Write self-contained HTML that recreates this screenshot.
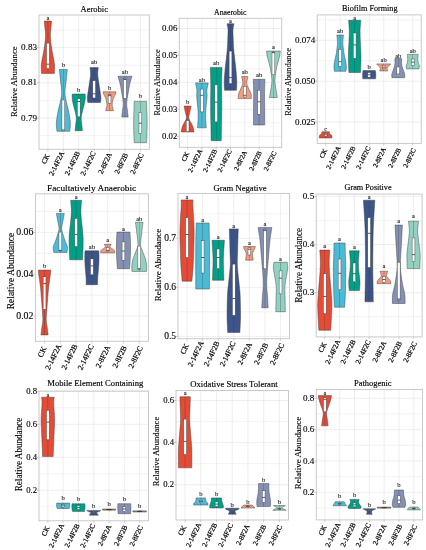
<!DOCTYPE html>
<html><head><meta charset="utf-8"><style>
html,body{margin:0;padding:0;background:#fff;}
svg{display:block;filter:blur(0.5px);}
text{font-family:"Liberation Serif",serif;}
.lt{font-size:6.6px;fill:#222;text-anchor:middle;stroke:#222;stroke-width:0.08px;}
.yt{fill:#000;text-anchor:end;stroke:#000;stroke-width:0.12px;}
.xt{fill:#000;text-anchor:end;stroke:#000;stroke-width:0.2px;}
.ti{fill:#000;text-anchor:middle;stroke:#000;stroke-width:0.15px;}
.yl{fill:#000;text-anchor:middle;stroke:#000;stroke-width:0.12px;}
</style></head><body>
<svg width="426" height="550" viewBox="0 0 426 550">
<rect width="426" height="550" fill="#fff"/>
<line x1="39" y1="29.97" x2="149.3" y2="29.97" stroke="#e9e9e9" stroke-width="0.55"/>
<line x1="39" y1="65.2" x2="149.3" y2="65.2" stroke="#e9e9e9" stroke-width="0.55"/>
<line x1="39" y1="100.5" x2="149.3" y2="100.5" stroke="#e9e9e9" stroke-width="0.55"/>
<line x1="39" y1="135.7" x2="149.3" y2="135.7" stroke="#e9e9e9" stroke-width="0.55"/>
<line x1="39" y1="47.6" x2="149.3" y2="47.6" stroke="#e2e2e2" stroke-width="0.6"/>
<line x1="39" y1="82.85" x2="149.3" y2="82.85" stroke="#e2e2e2" stroke-width="0.6"/>
<line x1="39" y1="118.1" x2="149.3" y2="118.1" stroke="#e2e2e2" stroke-width="0.6"/>
<line x1="47.93" y1="15" x2="47.93" y2="149.3" stroke="#e2e2e2" stroke-width="0.6"/>
<line x1="63.34" y1="15" x2="63.34" y2="149.3" stroke="#e2e2e2" stroke-width="0.6"/>
<line x1="78.74" y1="15" x2="78.74" y2="149.3" stroke="#e2e2e2" stroke-width="0.6"/>
<line x1="94.15" y1="15" x2="94.15" y2="149.3" stroke="#e2e2e2" stroke-width="0.6"/>
<line x1="109.56" y1="15" x2="109.56" y2="149.3" stroke="#e2e2e2" stroke-width="0.6"/>
<line x1="124.96" y1="15" x2="124.96" y2="149.3" stroke="#e2e2e2" stroke-width="0.6"/>
<line x1="140.37" y1="15" x2="140.37" y2="149.3" stroke="#e2e2e2" stroke-width="0.6"/>
<path d="M44.23,21 L51.63,21 C51.52,22.17 51.15,25.67 50.93,28 C50.72,30.33 50.3,32.17 50.33,35 C50.37,37.83 50.72,41.67 51.13,45 C51.55,48.33 52.28,51.83 52.83,55 C53.38,58.17 54.17,60.93 54.43,64 C54.7,67.07 54.43,71.83 54.43,73.4 L41.43,73.4 C41.43,71.83 41.17,67.07 41.43,64 C41.7,60.93 42.48,58.17 43.03,55 C43.58,51.83 44.32,48.33 44.73,45 C45.15,41.67 45.5,37.83 45.53,35 C45.57,32.17 45.15,30.33 44.93,28 C44.72,25.67 44.35,22.17 44.23,21 Z" fill="#E64B35" stroke="#3a3a3a" stroke-width="0.45"/>
<line x1="47.93" y1="21" x2="47.93" y2="73.4" stroke="#3a3a3a" stroke-width="0.4" opacity="0.8"/>
<rect x="46.53" y="43.1" width="2.8" height="25.5" fill="#fff" stroke="#444" stroke-width="0.45"/>
<line x1="46.53" y1="64.2" x2="49.33" y2="64.2" stroke="#333" stroke-width="0.8"/>
<text x="47.93" y="20" class="lt">a</text>
<path d="M59.34,69.5 L67.34,69.5 C67.14,71.42 66.54,77.25 66.14,81 C65.74,84.75 64.97,88.83 64.94,92 C64.91,95.17 65.37,97 65.94,100 C66.51,103 67.67,106.83 68.34,110 C69.01,113.17 69.61,116.42 69.94,119 C70.27,121.58 70.37,123.45 70.34,125.5 C70.31,127.55 69.84,130.33 69.74,131.3 L56.94,131.3 C56.84,130.33 56.37,127.55 56.34,125.5 C56.31,123.45 56.41,121.58 56.74,119 C57.07,116.42 57.67,113.17 58.34,110 C59.01,106.83 60.17,103 60.74,100 C61.31,97 61.77,95.17 61.74,92 C61.71,88.83 60.94,84.75 60.54,81 C60.14,77.25 59.54,71.42 59.34,69.5 Z" fill="#4DBBD5" stroke="#3a3a3a" stroke-width="0.45"/>
<line x1="63.34" y1="69.5" x2="63.34" y2="131.3" stroke="#3a3a3a" stroke-width="0.4" opacity="0.8"/>
<rect x="61.94" y="100" width="2.8" height="31" fill="#fff" stroke="#444" stroke-width="0.45"/>
<line x1="61.94" y1="130" x2="64.74" y2="130" stroke="#333" stroke-width="0.8"/>
<text x="63.34" y="66.5" class="lt">b</text>
<path d="M72.34,94 L85.14,94 C85.18,94.5 85.38,95.83 85.34,97 C85.31,98.17 85.19,99.5 84.94,101 C84.69,102.5 84.29,104.17 83.84,106 C83.39,107.83 82.69,110 82.24,112 C81.79,114 81.23,116 81.14,118 C81.06,120 81.53,121.88 81.74,124 C81.96,126.12 82.33,129.58 82.44,130.7 L75.04,130.7 C75.16,129.58 75.53,126.12 75.74,124 C75.96,121.88 76.43,120 76.34,118 C76.26,116 75.69,114 75.24,112 C74.79,110 74.09,107.83 73.64,106 C73.19,104.17 72.79,102.5 72.54,101 C72.29,99.5 72.18,98.17 72.14,97 C72.11,95.83 72.31,94.5 72.34,94 Z" fill="#00A087" stroke="#3a3a3a" stroke-width="0.45"/>
<line x1="78.74" y1="94" x2="78.74" y2="130.7" stroke="#3a3a3a" stroke-width="0.4" opacity="0.8"/>
<rect x="77.34" y="98.7" width="2.8" height="18.1" fill="#fff" stroke="#444" stroke-width="0.45"/>
<line x1="77.34" y1="101.5" x2="80.14" y2="101.5" stroke="#333" stroke-width="0.8"/>
<text x="78.74" y="91.5" class="lt">b</text>
<path d="M90,67.6 L98.3,67.6 C98.21,68.83 97.56,71.77 97.75,75 C97.94,78.23 98.93,83.33 99.45,87 C99.97,90.67 100.67,94.42 100.85,97 C101.03,99.58 100.6,101.58 100.55,102.5 L87.75,102.5 C87.7,101.58 87.27,99.58 87.45,97 C87.63,94.42 88.33,90.67 88.85,87 C89.37,83.33 90.36,78.23 90.55,75 C90.74,71.77 90.09,68.83 90,67.6 Z" fill="#3C5488" stroke="#3a3a3a" stroke-width="0.45"/>
<line x1="94.15" y1="67.6" x2="94.15" y2="102.5" stroke="#3a3a3a" stroke-width="0.4" opacity="0.8"/>
<rect x="92.75" y="80.7" width="2.8" height="17.3" fill="#fff" stroke="#444" stroke-width="0.45"/>
<line x1="92.75" y1="93.8" x2="95.55" y2="93.8" stroke="#333" stroke-width="0.8"/>
<text x="94.15" y="64.4" class="lt">ab</text>
<path d="M103.11,91.8 L116.01,91.8 C115.93,92.17 115.93,93.03 115.56,94 C115.18,94.97 114.24,96.43 113.76,97.6 C113.27,98.77 112.91,99.73 112.66,101 C112.4,102.27 112.17,104.03 112.21,105.2 C112.24,106.37 112.65,107.08 112.86,108 C113.06,108.92 113.36,110.25 113.46,110.7 L105.66,110.7 C105.76,110.25 106.05,108.92 106.26,108 C106.46,107.08 106.87,106.37 106.91,105.2 C106.94,104.03 106.71,102.27 106.46,101 C106.2,99.73 105.84,98.77 105.36,97.6 C104.87,96.43 103.93,94.97 103.56,94 C103.18,93.03 103.18,92.17 103.11,91.8 Z" fill="#F39B7F" stroke="#3a3a3a" stroke-width="0.45"/>
<line x1="109.56" y1="91.8" x2="109.56" y2="110.7" stroke="#3a3a3a" stroke-width="0.4" opacity="0.8"/>
<rect x="108.16" y="94.6" width="2.8" height="8.6" fill="#fff" stroke="#444" stroke-width="0.45"/>
<line x1="108.16" y1="95.6" x2="110.96" y2="95.6" stroke="#333" stroke-width="0.8"/>
<text x="109.56" y="89.8" class="lt">b</text>
<path d="M117.96,76.2 L131.96,76.2 C131.86,76.58 131.72,77.23 131.36,78.5 C131,79.77 130.36,81.3 129.81,83.8 C129.26,86.3 128.59,90.3 128.06,93.5 C127.54,96.7 126.78,100.25 126.66,103 C126.54,105.75 127.11,107.67 127.36,110 C127.61,112.33 128.03,115.83 128.16,117 L121.76,117 C121.89,115.83 122.31,112.33 122.56,110 C122.81,107.67 123.38,105.75 123.26,103 C123.14,100.25 122.39,96.7 121.86,93.5 C121.34,90.3 120.66,86.3 120.11,83.8 C119.56,81.3 118.92,79.77 118.56,78.5 C118.2,77.23 118.06,76.58 117.96,76.2 Z" fill="#8491B4" stroke="#3a3a3a" stroke-width="0.45"/>
<line x1="124.96" y1="76.2" x2="124.96" y2="117" stroke="#3a3a3a" stroke-width="0.4" opacity="0.8"/>
<rect x="123.56" y="78.6" width="2.8" height="19.7" fill="#fff" stroke="#444" stroke-width="0.45"/>
<line x1="123.56" y1="79.5" x2="126.36" y2="79.5" stroke="#333" stroke-width="0.8"/>
<text x="124.96" y="73.5" class="lt">ab</text>
<path d="M134.22,101.4 L146.52,101.4 C146.56,102.83 146.67,106.4 146.77,110 C146.87,113.6 147.1,118.83 147.12,123 C147.13,127.17 146.97,131.72 146.87,135 C146.77,138.28 146.57,141.42 146.52,142.7 L134.22,142.7 C134.16,141.42 133.97,138.28 133.87,135 C133.77,131.72 133.6,127.17 133.62,123 C133.63,118.83 133.87,113.6 133.97,110 C134.07,106.4 134.17,102.83 134.22,101.4 Z" fill="#91D1C2" stroke="#3a3a3a" stroke-width="0.45"/>
<line x1="140.37" y1="101.4" x2="140.37" y2="142.7" stroke="#3a3a3a" stroke-width="0.4" opacity="0.8"/>
<rect x="138.97" y="112.5" width="2.8" height="20.8" fill="#fff" stroke="#444" stroke-width="0.45"/>
<line x1="138.97" y1="123.2" x2="141.77" y2="123.2" stroke="#333" stroke-width="0.8"/>
<text x="140.37" y="98.4" class="lt">b</text>
<rect x="39" y="15" width="110.3" height="134.3" fill="none" stroke="#c4c4c4" stroke-width="0.9"/>
<line x1="36.8" y1="47.6" x2="39" y2="47.6" stroke="#b0b0b0" stroke-width="0.6"/>
<text x="37" y="50.24" class="yt" style="font-size:9.1px">0.83</text>
<line x1="36.8" y1="82.85" x2="39" y2="82.85" stroke="#b0b0b0" stroke-width="0.6"/>
<text x="37" y="85.49" class="yt" style="font-size:9.1px">0.81</text>
<line x1="36.8" y1="118.1" x2="39" y2="118.1" stroke="#b0b0b0" stroke-width="0.6"/>
<text x="37" y="120.74" class="yt" style="font-size:9.1px">0.79</text>
<line x1="47.93" y1="149.3" x2="47.93" y2="151.5" stroke="#b0b0b0" stroke-width="0.6"/>
<text transform="translate(45.33,153.2) rotate(-64)" class="xt" style="font-size:7.28px" dy="0.7em">CK</text>
<line x1="63.34" y1="149.3" x2="63.34" y2="151.5" stroke="#b0b0b0" stroke-width="0.6"/>
<text transform="translate(59.84,150.5) rotate(-64)" class="xt" style="font-size:7.28px" dy="0.7em">2-14F2A</text>
<line x1="78.74" y1="149.3" x2="78.74" y2="151.5" stroke="#b0b0b0" stroke-width="0.6"/>
<text transform="translate(75.54,150.6) rotate(-64)" class="xt" style="font-size:7.28px" dy="0.7em">2-14F2B</text>
<line x1="94.15" y1="149.3" x2="94.15" y2="151.5" stroke="#b0b0b0" stroke-width="0.6"/>
<text transform="translate(91.35,150.7) rotate(-64)" class="xt" style="font-size:7.28px" dy="0.7em">2-14F2C</text>
<line x1="109.56" y1="149.3" x2="109.56" y2="151.5" stroke="#b0b0b0" stroke-width="0.6"/>
<text transform="translate(107.56,151.9) rotate(-64)" class="xt" style="font-size:7.28px" dy="0.7em">2-8F2A</text>
<line x1="124.96" y1="149.3" x2="124.96" y2="151.5" stroke="#b0b0b0" stroke-width="0.6"/>
<text transform="translate(123.66,152.3) rotate(-64)" class="xt" style="font-size:7.28px" dy="0.7em">2-8F2B</text>
<line x1="140.37" y1="149.3" x2="140.37" y2="151.5" stroke="#b0b0b0" stroke-width="0.6"/>
<text transform="translate(139.37,152.5) rotate(-64)" class="xt" style="font-size:7.28px" dy="0.7em">2-8F2C</text>
<text x="94.3" y="11.7" class="ti" style="font-size:8.6px" textLength="27.4" lengthAdjust="spacingAndGlyphs">Aerobic</text>
<text transform="translate(16.57,81.7) rotate(-90)" class="yl" style="font-size:9px" textLength="70.7" lengthAdjust="spacingAndGlyphs">Relative Abundance</text>
<line x1="179.3" y1="41.97" x2="281.7" y2="41.97" stroke="#e9e9e9" stroke-width="0.55"/>
<line x1="179.3" y1="68.9" x2="281.7" y2="68.9" stroke="#e9e9e9" stroke-width="0.55"/>
<line x1="179.3" y1="95.9" x2="281.7" y2="95.9" stroke="#e9e9e9" stroke-width="0.55"/>
<line x1="179.3" y1="122.8" x2="281.7" y2="122.8" stroke="#e9e9e9" stroke-width="0.55"/>
<line x1="179.3" y1="28.5" x2="281.7" y2="28.5" stroke="#e2e2e2" stroke-width="0.6"/>
<line x1="179.3" y1="55.45" x2="281.7" y2="55.45" stroke="#e2e2e2" stroke-width="0.6"/>
<line x1="179.3" y1="82.4" x2="281.7" y2="82.4" stroke="#e2e2e2" stroke-width="0.6"/>
<line x1="179.3" y1="109.35" x2="281.7" y2="109.35" stroke="#e2e2e2" stroke-width="0.6"/>
<line x1="179.3" y1="136.3" x2="281.7" y2="136.3" stroke="#e2e2e2" stroke-width="0.6"/>
<line x1="187.59" y1="18.3" x2="187.59" y2="147.3" stroke="#e2e2e2" stroke-width="0.6"/>
<line x1="201.9" y1="18.3" x2="201.9" y2="147.3" stroke="#e2e2e2" stroke-width="0.6"/>
<line x1="216.2" y1="18.3" x2="216.2" y2="147.3" stroke="#e2e2e2" stroke-width="0.6"/>
<line x1="230.5" y1="18.3" x2="230.5" y2="147.3" stroke="#e2e2e2" stroke-width="0.6"/>
<line x1="244.8" y1="18.3" x2="244.8" y2="147.3" stroke="#e2e2e2" stroke-width="0.6"/>
<line x1="259.1" y1="18.3" x2="259.1" y2="147.3" stroke="#e2e2e2" stroke-width="0.6"/>
<line x1="273.41" y1="18.3" x2="273.41" y2="147.3" stroke="#e2e2e2" stroke-width="0.6"/>
<path d="M184.04,106.1 L191.14,106.1 C190.94,107.08 190.3,110.02 189.89,112 C189.49,113.98 188.58,116.33 188.69,118 C188.81,119.67 189.89,120.57 190.59,122 C191.29,123.43 192.33,124.93 192.89,126.6 C193.46,128.27 193.81,131.1 193.99,132 L181.19,132 C181.38,131.1 181.73,128.27 182.29,126.6 C182.86,124.93 183.89,123.43 184.59,122 C185.29,120.57 186.38,119.67 186.49,118 C186.61,116.33 185.7,113.98 185.29,112 C184.89,110.02 184.25,107.08 184.04,106.1 Z" fill="#E64B35" stroke="#3a3a3a" stroke-width="0.45"/>
<line x1="187.59" y1="106.1" x2="187.59" y2="132" stroke="#3a3a3a" stroke-width="0.4" opacity="0.8"/>
<rect x="186.19" y="119.6" width="2.8" height="11.9" fill="#fff" stroke="#444" stroke-width="0.45"/>
<line x1="186.19" y1="120.3" x2="188.99" y2="120.3" stroke="#333" stroke-width="0.8"/>
<text x="187.59" y="104.2" class="lt">b</text>
<path d="M195.6,82.9 L208.2,82.9 C208.11,83.42 207.91,84.82 207.7,86 C207.48,87.18 207,88.33 206.9,90 C206.8,91.67 207.16,93.83 207.1,96 C207.03,98.17 206.73,100.5 206.5,103 C206.26,105.5 205.83,108.33 205.7,111 C205.56,113.67 205.6,116.2 205.7,119 C205.8,121.8 206.2,126.33 206.3,127.8 L197.5,127.8 C197.6,126.33 198,121.8 198.1,119 C198.2,116.2 198.23,113.67 198.1,111 C197.96,108.33 197.53,105.5 197.3,103 C197.06,100.5 196.76,98.17 196.7,96 C196.63,93.83 197,91.67 196.9,90 C196.8,88.33 196.31,87.18 196.1,86 C195.88,84.82 195.68,83.42 195.6,82.9 Z" fill="#4DBBD5" stroke="#3a3a3a" stroke-width="0.45"/>
<line x1="201.9" y1="82.9" x2="201.9" y2="127.8" stroke="#3a3a3a" stroke-width="0.4" opacity="0.8"/>
<rect x="200.5" y="89.1" width="2.8" height="22.8" fill="#fff" stroke="#444" stroke-width="0.45"/>
<line x1="200.5" y1="95.3" x2="203.3" y2="95.3" stroke="#333" stroke-width="0.8"/>
<text x="201.9" y="81.6" class="lt">ab</text>
<path d="M210.35,67.4 L222.05,67.4 C221.97,70.33 221.64,78.73 221.6,85 C221.56,91.27 221.81,98.33 221.8,105 C221.78,111.67 221.59,119.05 221.5,125 C221.41,130.95 221.29,138.08 221.25,140.7 L211.15,140.7 C211.11,138.08 210.99,130.95 210.9,125 C210.81,119.05 210.61,111.67 210.6,105 C210.58,98.33 210.84,91.27 210.8,85 C210.76,78.73 210.42,70.33 210.35,67.4 Z" fill="#00A087" stroke="#3a3a3a" stroke-width="0.45"/>
<line x1="216.2" y1="67.4" x2="216.2" y2="140.7" stroke="#3a3a3a" stroke-width="0.4" opacity="0.8"/>
<rect x="214.8" y="84.9" width="2.8" height="37" fill="#fff" stroke="#444" stroke-width="0.45"/>
<line x1="214.8" y1="102.2" x2="217.6" y2="102.2" stroke="#333" stroke-width="0.8"/>
<text x="216.2" y="65" class="lt">ab</text>
<path d="M227,23.7 L234,23.7 C233.82,24.73 233.08,27.52 232.95,29.9 C232.82,32.28 233.09,35.02 233.2,38 C233.31,40.98 233.38,44.63 233.6,47.8 C233.82,50.97 234.15,53.77 234.5,57 C234.85,60.23 235.38,64.2 235.7,67.2 C236.02,70.2 236.22,72.77 236.4,75 C236.58,77.23 236.7,78.77 236.75,80.6 C236.8,82.43 236.75,84.38 236.7,86 C236.65,87.62 236.49,89.58 236.45,90.3 L224.55,90.3 C224.51,89.58 224.35,87.62 224.3,86 C224.25,84.38 224.2,82.43 224.25,80.6 C224.3,78.77 224.42,77.23 224.6,75 C224.78,72.77 224.98,70.2 225.3,67.2 C225.62,64.2 226.15,60.23 226.5,57 C226.85,53.77 227.18,50.97 227.4,47.8 C227.62,44.63 227.69,40.98 227.8,38 C227.91,35.02 228.18,32.28 228.05,29.9 C227.92,27.52 227.18,24.73 227,23.7 Z" fill="#3C5488" stroke="#3a3a3a" stroke-width="0.45"/>
<line x1="230.5" y1="23.7" x2="230.5" y2="90.3" stroke="#3a3a3a" stroke-width="0.4" opacity="0.8"/>
<rect x="229.1" y="51.1" width="2.8" height="32.5" fill="#fff" stroke="#444" stroke-width="0.45"/>
<line x1="229.1" y1="77.6" x2="231.9" y2="77.6" stroke="#333" stroke-width="0.8"/>
<text x="230.5" y="22.7" class="lt">a</text>
<path d="M241.6,76.6 L248,76.6 C247.87,77.17 247.4,78.83 247.2,80 C247,81.17 246.67,82.43 246.8,83.6 C246.94,84.77 247.5,85.77 248,87 C248.5,88.23 249.29,89.83 249.8,91 C250.32,92.17 250.84,92.73 251.1,94 C251.37,95.27 251.35,97.83 251.4,98.6 L238.2,98.6 C238.25,97.83 238.24,95.27 238.5,94 C238.77,92.73 239.29,92.17 239.8,91 C240.32,89.83 241.1,88.23 241.6,87 C242.1,85.77 242.67,84.77 242.8,83.6 C242.94,82.43 242.6,81.17 242.4,80 C242.2,78.83 241.74,77.17 241.6,76.6 Z" fill="#F39B7F" stroke="#3a3a3a" stroke-width="0.45"/>
<line x1="244.8" y1="76.6" x2="244.8" y2="98.6" stroke="#3a3a3a" stroke-width="0.4" opacity="0.8"/>
<rect x="243.4" y="86.4" width="2.8" height="10.6" fill="#fff" stroke="#444" stroke-width="0.45"/>
<line x1="243.4" y1="95.3" x2="246.2" y2="95.3" stroke="#333" stroke-width="0.8"/>
<text x="244.8" y="74.3" class="lt">ab</text>
<path d="M253.25,79.3 L264.95,79.3 C264.88,81.92 264.55,89.88 264.5,95 C264.46,100.12 264.67,105 264.7,110 C264.74,115 264.7,122.5 264.7,125 L253.5,125 C253.5,122.5 253.47,115 253.5,110 C253.54,105 253.75,100.12 253.7,95 C253.66,89.88 253.33,81.92 253.25,79.3 Z" fill="#8491B4" stroke="#3a3a3a" stroke-width="0.45"/>
<line x1="259.1" y1="79.3" x2="259.1" y2="125" stroke="#3a3a3a" stroke-width="0.4" opacity="0.8"/>
<rect x="257.7" y="90.2" width="2.8" height="24" fill="#fff" stroke="#444" stroke-width="0.45"/>
<line x1="257.7" y1="101.8" x2="260.5" y2="101.8" stroke="#333" stroke-width="0.8"/>
<text x="259.1" y="77" class="lt">ab</text>
<path d="M266.51,51.1 L280.31,51.1 C280.22,51.75 280.07,53.57 279.81,55 C279.54,56.43 279.09,58.2 278.71,59.7 C278.32,61.2 277.89,62.5 277.51,64 C277.12,65.5 276.76,66.87 276.41,68.7 C276.06,70.53 275.66,73.02 275.41,75 C275.16,76.98 274.91,78.77 274.91,80.6 C274.91,82.43 275.16,84.1 275.41,86 C275.66,87.9 276.09,90.08 276.41,92 C276.72,93.92 277.16,96.58 277.31,97.5 L269.51,97.5 C269.66,96.58 270.09,93.92 270.41,92 C270.72,90.08 271.16,87.9 271.41,86 C271.66,84.1 271.91,82.43 271.91,80.6 C271.91,78.77 271.66,76.98 271.41,75 C271.16,73.02 270.76,70.53 270.41,68.7 C270.06,66.87 269.69,65.5 269.31,64 C268.92,62.5 268.49,61.2 268.11,59.7 C267.72,58.2 267.27,56.43 267.01,55 C266.74,53.57 266.59,51.75 266.51,51.1 Z" fill="#91D1C2" stroke="#3a3a3a" stroke-width="0.45"/>
<line x1="273.41" y1="51.1" x2="273.41" y2="97.5" stroke="#3a3a3a" stroke-width="0.4" opacity="0.8"/>
<rect x="272.01" y="52" width="2.8" height="22.6" fill="#fff" stroke="#444" stroke-width="0.45"/>
<line x1="272.01" y1="52.6" x2="274.81" y2="52.6" stroke="#333" stroke-width="0.8"/>
<text x="273.41" y="49.3" class="lt">a</text>
<rect x="179.3" y="18.3" width="102.4" height="129" fill="none" stroke="#c4c4c4" stroke-width="0.9"/>
<line x1="177.1" y1="28.5" x2="179.3" y2="28.5" stroke="#b0b0b0" stroke-width="0.6"/>
<text x="177.3" y="31.02" class="yt" style="font-size:8.7px">0.06</text>
<line x1="177.1" y1="55.45" x2="179.3" y2="55.45" stroke="#b0b0b0" stroke-width="0.6"/>
<text x="177.3" y="57.97" class="yt" style="font-size:8.7px">0.05</text>
<line x1="177.1" y1="82.4" x2="179.3" y2="82.4" stroke="#b0b0b0" stroke-width="0.6"/>
<text x="177.3" y="84.92" class="yt" style="font-size:8.7px">0.04</text>
<line x1="177.1" y1="109.35" x2="179.3" y2="109.35" stroke="#b0b0b0" stroke-width="0.6"/>
<text x="177.3" y="111.87" class="yt" style="font-size:8.7px">0.03</text>
<line x1="177.1" y1="136.3" x2="179.3" y2="136.3" stroke="#b0b0b0" stroke-width="0.6"/>
<text x="177.3" y="138.82" class="yt" style="font-size:8.7px">0.02</text>
<line x1="187.59" y1="147.3" x2="187.59" y2="149.5" stroke="#b0b0b0" stroke-width="0.6"/>
<text transform="translate(184.99,151.2) rotate(-64)" class="xt" style="font-size:6.86px" dy="0.7em">CK</text>
<line x1="201.9" y1="147.3" x2="201.9" y2="149.5" stroke="#b0b0b0" stroke-width="0.6"/>
<text transform="translate(198.4,148.5) rotate(-64)" class="xt" style="font-size:6.86px" dy="0.7em">2-14F2A</text>
<line x1="216.2" y1="147.3" x2="216.2" y2="149.5" stroke="#b0b0b0" stroke-width="0.6"/>
<text transform="translate(213,148.6) rotate(-64)" class="xt" style="font-size:6.86px" dy="0.7em">2-14F2B</text>
<line x1="230.5" y1="147.3" x2="230.5" y2="149.5" stroke="#b0b0b0" stroke-width="0.6"/>
<text transform="translate(227.7,148.7) rotate(-64)" class="xt" style="font-size:6.86px" dy="0.7em">2-14F2C</text>
<line x1="244.8" y1="147.3" x2="244.8" y2="149.5" stroke="#b0b0b0" stroke-width="0.6"/>
<text transform="translate(242.8,149.9) rotate(-64)" class="xt" style="font-size:6.86px" dy="0.7em">2-8F2A</text>
<line x1="259.1" y1="147.3" x2="259.1" y2="149.5" stroke="#b0b0b0" stroke-width="0.6"/>
<text transform="translate(257.8,150.3) rotate(-64)" class="xt" style="font-size:6.86px" dy="0.7em">2-8F2B</text>
<line x1="273.41" y1="147.3" x2="273.41" y2="149.5" stroke="#b0b0b0" stroke-width="0.6"/>
<text transform="translate(272.41,150.5) rotate(-64)" class="xt" style="font-size:6.86px" dy="0.7em">2-8F2C</text>
<text x="230.3" y="15.2" class="ti" style="font-size:7.9px" textLength="32.4" lengthAdjust="spacingAndGlyphs">Anaerobic</text>
<text transform="translate(159.77,82.5) rotate(-90)" class="yl" style="font-size:8.4px" textLength="66.1" lengthAdjust="spacingAndGlyphs">Relative Abundance</text>
<line x1="317.2" y1="19.85" x2="421.2" y2="19.85" stroke="#e9e9e9" stroke-width="0.55"/>
<line x1="317.2" y1="60.75" x2="421.2" y2="60.75" stroke="#e9e9e9" stroke-width="0.55"/>
<line x1="317.2" y1="101.6" x2="421.2" y2="101.6" stroke="#e9e9e9" stroke-width="0.55"/>
<line x1="317.2" y1="40.3" x2="421.2" y2="40.3" stroke="#e2e2e2" stroke-width="0.6"/>
<line x1="317.2" y1="81.2" x2="421.2" y2="81.2" stroke="#e2e2e2" stroke-width="0.6"/>
<line x1="317.2" y1="122" x2="421.2" y2="122" stroke="#e2e2e2" stroke-width="0.6"/>
<line x1="325.62" y1="14.9" x2="325.62" y2="143.4" stroke="#e2e2e2" stroke-width="0.6"/>
<line x1="340.15" y1="14.9" x2="340.15" y2="143.4" stroke="#e2e2e2" stroke-width="0.6"/>
<line x1="354.67" y1="14.9" x2="354.67" y2="143.4" stroke="#e2e2e2" stroke-width="0.6"/>
<line x1="369.2" y1="14.9" x2="369.2" y2="143.4" stroke="#e2e2e2" stroke-width="0.6"/>
<line x1="383.73" y1="14.9" x2="383.73" y2="143.4" stroke="#e2e2e2" stroke-width="0.6"/>
<line x1="398.25" y1="14.9" x2="398.25" y2="143.4" stroke="#e2e2e2" stroke-width="0.6"/>
<line x1="412.78" y1="14.9" x2="412.78" y2="143.4" stroke="#e2e2e2" stroke-width="0.6"/>
<path d="M321.77,131.8 L329.47,131.8 C329.48,132.07 329.3,132.93 329.52,133.4 C329.75,133.87 330.42,134.2 330.82,134.6 C331.22,135 331.76,135.23 331.92,135.8 C332.09,136.37 331.84,137.63 331.82,138 L319.42,138 C319.41,137.63 319.16,136.37 319.32,135.8 C319.49,135.23 320.02,135 320.42,134.6 C320.82,134.2 321.5,133.87 321.72,133.4 C321.95,132.93 321.77,132.07 321.77,131.8 Z" fill="#E64B35" stroke="#3a3a3a" stroke-width="0.45"/>
<line x1="325.62" y1="131.8" x2="325.62" y2="138" stroke="#3a3a3a" stroke-width="0.4" opacity="0.8"/>
<rect x="324.22" y="133.4" width="2.8" height="2.8" fill="#fff" stroke="#444" stroke-width="0.45"/>
<line x1="324.22" y1="134.8" x2="327.02" y2="134.8" stroke="#333" stroke-width="0.8"/>
<text x="325.62" y="130.6" class="lt">c</text>
<path d="M336.85,35 L343.45,35 C343.35,36.1 342.9,39.6 342.85,41.6 C342.8,43.6 342.95,45 343.15,47 C343.35,49 343.75,51.77 344.05,53.6 C344.35,55.43 344.65,56.6 344.95,58 C345.25,59.4 345.62,60.53 345.85,62 C346.08,63.47 346.33,65.25 346.35,66.8 C346.37,68.35 346.02,70.55 345.95,71.3 L334.35,71.3 C334.28,70.55 333.93,68.35 333.95,66.8 C333.97,65.25 334.22,63.47 334.45,62 C334.68,60.53 335.05,59.4 335.35,58 C335.65,56.6 335.95,55.43 336.25,53.6 C336.55,51.77 336.95,49 337.15,47 C337.35,45 337.5,43.6 337.45,41.6 C337.4,39.6 336.95,36.1 336.85,35 Z" fill="#4DBBD5" stroke="#3a3a3a" stroke-width="0.45"/>
<line x1="340.15" y1="35" x2="340.15" y2="71.3" stroke="#3a3a3a" stroke-width="0.4" opacity="0.8"/>
<rect x="338.75" y="49.4" width="2.8" height="16.8" fill="#fff" stroke="#444" stroke-width="0.45"/>
<line x1="338.75" y1="61.7" x2="341.55" y2="61.7" stroke="#333" stroke-width="0.8"/>
<text x="340.15" y="33.3" class="lt">ab</text>
<path d="M348.57,20.3 L360.77,20.3 C360.72,20.92 360.59,22.25 360.47,24 C360.36,25.75 360.11,28.13 360.07,30.8 C360.04,33.47 360.16,36.8 360.27,40 C360.39,43.2 360.66,47 360.77,50 C360.89,53 360.97,55.33 360.97,58 C360.97,60.67 360.86,63.58 360.77,66 C360.69,68.42 360.52,71.42 360.47,72.5 L348.87,72.5 C348.82,71.42 348.66,68.42 348.57,66 C348.49,63.58 348.37,60.67 348.37,58 C348.37,55.33 348.46,53 348.57,50 C348.69,47 348.96,43.2 349.07,40 C349.19,36.8 349.31,33.47 349.27,30.8 C349.24,28.13 348.99,25.75 348.87,24 C348.76,22.25 348.62,20.92 348.57,20.3 Z" fill="#00A087" stroke="#3a3a3a" stroke-width="0.45"/>
<line x1="354.67" y1="20.3" x2="354.67" y2="72.5" stroke="#3a3a3a" stroke-width="0.4" opacity="0.8"/>
<rect x="353.27" y="33" width="2.8" height="25.4" fill="#fff" stroke="#444" stroke-width="0.45"/>
<line x1="353.27" y1="44.9" x2="356.07" y2="44.9" stroke="#333" stroke-width="0.8"/>
<text x="354.67" y="19.9" class="lt">a</text>
<path d="M363,70.6 L375.4,70.6 C375.45,71 375.63,72.1 375.7,73 C375.77,73.9 375.82,75.03 375.8,76 C375.78,76.97 375.63,78.33 375.6,78.8 L362.8,78.8 C362.77,78.33 362.62,76.97 362.6,76 C362.58,75.03 362.63,73.9 362.7,73 C362.77,72.1 362.95,71 363,70.6 Z" fill="#3C5488" stroke="#3a3a3a" stroke-width="0.45"/>
<line x1="369.2" y1="70.6" x2="369.2" y2="78.8" stroke="#3a3a3a" stroke-width="0.4" opacity="0.8"/>
<rect x="367.8" y="72.6" width="2.8" height="4.6" fill="#fff" stroke="#444" stroke-width="0.45"/>
<line x1="367.8" y1="74.8" x2="370.6" y2="74.8" stroke="#333" stroke-width="0.8"/>
<text x="369.2" y="69.3" class="lt">b</text>
<path d="M376.73,63.9 L390.73,63.9 C390.59,64.08 390.34,64.57 389.93,65 C389.51,65.43 388.69,66.03 388.23,66.5 C387.76,66.97 387.28,67.3 387.13,67.8 C386.98,68.3 387.23,68.97 387.33,69.5 C387.43,70.03 387.66,70.75 387.73,71 L379.73,71 C379.79,70.75 380.03,70.03 380.13,69.5 C380.23,68.97 380.48,68.3 380.33,67.8 C380.18,67.3 379.69,66.97 379.23,66.5 C378.76,66.03 377.94,65.43 377.53,65 C377.11,64.57 376.86,64.08 376.73,63.9 Z" fill="#F39B7F" stroke="#3a3a3a" stroke-width="0.45"/>
<line x1="383.73" y1="63.9" x2="383.73" y2="71" stroke="#3a3a3a" stroke-width="0.4" opacity="0.8"/>
<rect x="382.33" y="65.3" width="2.8" height="3.5" fill="#fff" stroke="#444" stroke-width="0.45"/>
<line x1="382.33" y1="67.2" x2="385.13" y2="67.2" stroke="#333" stroke-width="0.8"/>
<text x="383.73" y="62.4" class="lt">ab</text>
<path d="M394.85,58.6 L401.65,58.6 C401.63,59.4 401.45,62 401.55,63.4 C401.65,64.8 401.93,65.82 402.25,67 C402.57,68.18 403.03,69.25 403.45,70.5 C403.87,71.75 404.57,73.3 404.75,74.5 C404.93,75.7 404.58,77.17 404.55,77.7 L391.95,77.7 C391.92,77.17 391.57,75.7 391.75,74.5 C391.93,73.3 392.63,71.75 393.05,70.5 C393.47,69.25 393.93,68.18 394.25,67 C394.57,65.82 394.85,64.8 394.95,63.4 C395.05,62 394.87,59.4 394.85,58.6 Z" fill="#8491B4" stroke="#3a3a3a" stroke-width="0.45"/>
<line x1="398.25" y1="58.6" x2="398.25" y2="77.7" stroke="#3a3a3a" stroke-width="0.4" opacity="0.8"/>
<rect x="396.85" y="67" width="2.8" height="8.7" fill="#fff" stroke="#444" stroke-width="0.45"/>
<line x1="396.85" y1="74.1" x2="399.65" y2="74.1" stroke="#333" stroke-width="0.8"/>
<text x="398.25" y="57.8" class="lt">ab</text>
<path d="M407.38,54.4 L418.18,54.4 C418.14,54.83 418.03,55.98 417.98,57 C417.93,58.02 417.78,59.42 417.88,60.5 C417.98,61.58 418.33,62.58 418.58,63.5 C418.83,64.42 419.31,65.1 419.38,66 C419.44,66.9 419.04,68.42 418.98,68.9 L406.58,68.9 C406.51,68.42 406.11,66.9 406.18,66 C406.24,65.1 406.73,64.42 406.98,63.5 C407.23,62.58 407.58,61.58 407.68,60.5 C407.78,59.42 407.63,58.02 407.58,57 C407.53,55.98 407.41,54.83 407.38,54.4 Z" fill="#91D1C2" stroke="#3a3a3a" stroke-width="0.45"/>
<line x1="412.78" y1="54.4" x2="412.78" y2="68.9" stroke="#3a3a3a" stroke-width="0.4" opacity="0.8"/>
<rect x="411.38" y="59" width="2.8" height="6.4" fill="#fff" stroke="#444" stroke-width="0.45"/>
<line x1="411.38" y1="62.2" x2="414.18" y2="62.2" stroke="#333" stroke-width="0.8"/>
<text x="412.78" y="52.8" class="lt">ab</text>
<rect x="317.2" y="14.9" width="104" height="128.5" fill="none" stroke="#c4c4c4" stroke-width="0.9"/>
<line x1="315" y1="40.3" x2="317.2" y2="40.3" stroke="#b0b0b0" stroke-width="0.6"/>
<text x="315.2" y="42.91" class="yt" style="font-size:9px">0.074</text>
<line x1="315" y1="81.2" x2="317.2" y2="81.2" stroke="#b0b0b0" stroke-width="0.6"/>
<text x="315.2" y="83.81" class="yt" style="font-size:9px">0.050</text>
<line x1="315" y1="122" x2="317.2" y2="122" stroke="#b0b0b0" stroke-width="0.6"/>
<text x="315.2" y="124.61" class="yt" style="font-size:9px">0.025</text>
<line x1="325.62" y1="143.4" x2="325.62" y2="145.6" stroke="#b0b0b0" stroke-width="0.6"/>
<text transform="translate(323.02,148.1) rotate(-64)" class="xt" style="font-size:6.86px" dy="0.7em">CK</text>
<line x1="340.15" y1="143.4" x2="340.15" y2="145.6" stroke="#b0b0b0" stroke-width="0.6"/>
<text transform="translate(336.65,145.4) rotate(-64)" class="xt" style="font-size:6.86px" dy="0.7em">2-14F2A</text>
<line x1="354.67" y1="143.4" x2="354.67" y2="145.6" stroke="#b0b0b0" stroke-width="0.6"/>
<text transform="translate(351.47,145.5) rotate(-64)" class="xt" style="font-size:6.86px" dy="0.7em">2-14F2B</text>
<line x1="369.2" y1="143.4" x2="369.2" y2="145.6" stroke="#b0b0b0" stroke-width="0.6"/>
<text transform="translate(366.4,145.6) rotate(-64)" class="xt" style="font-size:6.86px" dy="0.7em">2-14F2C</text>
<line x1="383.73" y1="143.4" x2="383.73" y2="145.6" stroke="#b0b0b0" stroke-width="0.6"/>
<text transform="translate(381.73,146.8) rotate(-64)" class="xt" style="font-size:6.86px" dy="0.7em">2-8F2A</text>
<line x1="398.25" y1="143.4" x2="398.25" y2="145.6" stroke="#b0b0b0" stroke-width="0.6"/>
<text transform="translate(396.95,147.2) rotate(-64)" class="xt" style="font-size:6.86px" dy="0.7em">2-8F2B</text>
<line x1="412.78" y1="143.4" x2="412.78" y2="145.6" stroke="#b0b0b0" stroke-width="0.6"/>
<text transform="translate(411.78,147.4) rotate(-64)" class="xt" style="font-size:6.86px" dy="0.7em">2-8F2C</text>
<text x="369.75" y="11.3" class="ti" style="font-size:8.6px" textLength="55.5" lengthAdjust="spacingAndGlyphs">Biofilm Forming</text>
<text transform="translate(290.74,81.9) rotate(-90)" class="yl" style="font-size:8.6px" textLength="67.8" lengthAdjust="spacingAndGlyphs">Relative Abundance</text>
<line x1="35.4" y1="211.5" x2="148.4" y2="211.5" stroke="#e9e9e9" stroke-width="0.55"/>
<line x1="35.4" y1="253.3" x2="148.4" y2="253.3" stroke="#e9e9e9" stroke-width="0.55"/>
<line x1="35.4" y1="295.1" x2="148.4" y2="295.1" stroke="#e9e9e9" stroke-width="0.55"/>
<line x1="35.4" y1="336.9" x2="148.4" y2="336.9" stroke="#e9e9e9" stroke-width="0.55"/>
<line x1="35.4" y1="232.4" x2="148.4" y2="232.4" stroke="#e2e2e2" stroke-width="0.6"/>
<line x1="35.4" y1="274.2" x2="148.4" y2="274.2" stroke="#e2e2e2" stroke-width="0.6"/>
<line x1="35.4" y1="316" x2="148.4" y2="316" stroke="#e2e2e2" stroke-width="0.6"/>
<line x1="44.55" y1="193.8" x2="44.55" y2="341.3" stroke="#e2e2e2" stroke-width="0.6"/>
<line x1="60.34" y1="193.8" x2="60.34" y2="341.3" stroke="#e2e2e2" stroke-width="0.6"/>
<line x1="76.12" y1="193.8" x2="76.12" y2="341.3" stroke="#e2e2e2" stroke-width="0.6"/>
<line x1="91.9" y1="193.8" x2="91.9" y2="341.3" stroke="#e2e2e2" stroke-width="0.6"/>
<line x1="107.68" y1="193.8" x2="107.68" y2="341.3" stroke="#e2e2e2" stroke-width="0.6"/>
<line x1="123.46" y1="193.8" x2="123.46" y2="341.3" stroke="#e2e2e2" stroke-width="0.6"/>
<line x1="139.25" y1="193.8" x2="139.25" y2="341.3" stroke="#e2e2e2" stroke-width="0.6"/>
<path d="M38.35,270.1 L50.75,270.1 C50.7,270.75 50.64,272.45 50.45,274 C50.27,275.55 49.97,277.07 49.65,279.4 C49.34,281.73 48.87,285.02 48.55,288 C48.24,290.98 48.02,293.97 47.75,297.3 C47.49,300.63 47.2,304.27 46.95,308 C46.7,311.73 46.22,316.53 46.25,319.7 C46.29,322.87 46.84,324.47 47.15,327 C47.47,329.53 47.99,333.58 48.15,334.9 L40.95,334.9 C41.12,333.58 41.64,329.53 41.95,327 C42.27,324.47 42.82,322.87 42.85,319.7 C42.89,316.53 42.4,311.73 42.15,308 C41.9,304.27 41.62,300.63 41.35,297.3 C41.09,293.97 40.87,290.98 40.55,288 C40.24,285.02 39.77,281.73 39.45,279.4 C39.14,277.07 38.84,275.55 38.65,274 C38.47,272.45 38.4,270.75 38.35,270.1 Z" fill="#E64B35" stroke="#3a3a3a" stroke-width="0.45"/>
<line x1="44.55" y1="270.1" x2="44.55" y2="334.9" stroke="#3a3a3a" stroke-width="0.4" opacity="0.8"/>
<rect x="43.15" y="276.7" width="2.8" height="32.6" fill="#fff" stroke="#444" stroke-width="0.45"/>
<line x1="43.15" y1="283.6" x2="45.95" y2="283.6" stroke="#333" stroke-width="0.8"/>
<text x="44.55" y="268" class="lt">b</text>
<path d="M56.34,213.4 L64.34,213.4 C64.1,214.67 63.39,218.48 62.94,221 C62.49,223.52 61.64,226.33 61.64,228.5 C61.64,230.67 62.41,232.08 62.94,234 C63.46,235.92 64.05,237.93 64.79,240 C65.52,242.07 66.91,244.82 67.34,246.4 C67.76,247.98 67.4,248.5 67.34,249.5 C67.27,250.5 67,251.92 66.94,252.4 L53.74,252.4 C53.67,251.92 53.4,250.5 53.34,249.5 C53.27,248.5 52.91,247.98 53.34,246.4 C53.76,244.82 55.15,242.07 55.89,240 C56.62,237.93 57.21,235.92 57.74,234 C58.26,232.08 59.04,230.67 59.04,228.5 C59.04,226.33 58.19,223.52 57.74,221 C57.29,218.48 56.57,214.67 56.34,213.4 Z" fill="#4DBBD5" stroke="#3a3a3a" stroke-width="0.45"/>
<line x1="60.34" y1="213.4" x2="60.34" y2="252.4" stroke="#3a3a3a" stroke-width="0.4" opacity="0.8"/>
<rect x="58.94" y="232.1" width="2.8" height="18.7" fill="#fff" stroke="#444" stroke-width="0.45"/>
<line x1="58.94" y1="250.4" x2="61.74" y2="250.4" stroke="#333" stroke-width="0.8"/>
<text x="60.34" y="211.5" class="lt">a</text>
<path d="M70.62,200.3 L81.62,200.3 C81.53,201.25 81.24,204.05 81.12,206 C80.99,207.95 80.82,209.67 80.87,212 C80.92,214.33 81.14,217 81.42,220 C81.69,223 82.23,227 82.52,230 C82.8,233 83.03,235 83.12,238 C83.2,241 83.12,244.37 83.02,248 C82.92,251.63 82.6,257.83 82.52,259.8 L69.72,259.8 C69.63,257.83 69.32,251.63 69.22,248 C69.12,244.37 69.03,241 69.12,238 C69.2,235 69.43,233 69.72,230 C70,227 70.54,223 70.82,220 C71.09,217 71.32,214.33 71.37,212 C71.42,209.67 71.24,207.95 71.12,206 C70.99,204.05 70.7,201.25 70.62,200.3 Z" fill="#00A087" stroke="#3a3a3a" stroke-width="0.45"/>
<line x1="76.12" y1="200.3" x2="76.12" y2="259.8" stroke="#3a3a3a" stroke-width="0.4" opacity="0.8"/>
<rect x="74.72" y="218.4" width="2.8" height="28" fill="#fff" stroke="#444" stroke-width="0.45"/>
<line x1="74.72" y1="234.4" x2="77.52" y2="234.4" stroke="#333" stroke-width="0.8"/>
<text x="76.12" y="198.9" class="lt">a</text>
<path d="M85,250.8 L98.8,250.8 C98.83,251.67 98.98,254.13 99,256 C99.02,257.87 99,259.67 98.9,262 C98.8,264.33 98.6,267.33 98.4,270 C98.2,272.67 97.83,275.55 97.7,278 C97.57,280.45 97.62,283.58 97.6,284.7 L86.2,284.7 C86.18,283.58 86.23,280.45 86.1,278 C85.97,275.55 85.6,272.67 85.4,270 C85.2,267.33 85,264.33 84.9,262 C84.8,259.67 84.78,257.87 84.8,256 C84.82,254.13 84.97,251.67 85,250.8 Z" fill="#3C5488" stroke="#3a3a3a" stroke-width="0.45"/>
<line x1="91.9" y1="250.8" x2="91.9" y2="284.7" stroke="#3a3a3a" stroke-width="0.4" opacity="0.8"/>
<rect x="90.5" y="258.9" width="2.8" height="15.8" fill="#fff" stroke="#444" stroke-width="0.45"/>
<line x1="90.5" y1="265.9" x2="93.3" y2="265.9" stroke="#333" stroke-width="0.8"/>
<text x="91.9" y="249.3" class="lt">ab</text>
<path d="M104.03,244.3 L111.33,244.3 C111.11,244.75 109.57,246.08 109.98,247 C110.39,247.92 112.99,249.07 113.78,249.8 C114.57,250.53 114.6,250.88 114.73,251.4 C114.87,251.92 114.61,252.65 114.58,252.9 L100.78,252.9 C100.76,252.65 100.5,251.92 100.63,251.4 C100.77,250.88 100.79,250.53 101.58,249.8 C102.37,249.07 104.97,247.92 105.38,247 C105.79,246.08 104.26,244.75 104.03,244.3 Z" fill="#F39B7F" stroke="#3a3a3a" stroke-width="0.45"/>
<line x1="107.68" y1="244.3" x2="107.68" y2="252.9" stroke="#3a3a3a" stroke-width="0.4" opacity="0.8"/>
<rect x="106.28" y="247.4" width="2.8" height="4.2" fill="#fff" stroke="#444" stroke-width="0.45"/>
<line x1="106.28" y1="250.4" x2="109.08" y2="250.4" stroke="#333" stroke-width="0.8"/>
<text x="107.68" y="241.9" class="lt">a</text>
<path d="M116.96,232.1 L129.96,232.1 C130.03,233.42 130.27,237.02 130.36,240 C130.46,242.98 130.55,246.67 130.51,250 C130.48,253.33 130.32,256.88 130.16,260 C130.01,263.12 129.66,267.25 129.56,268.7 L117.36,268.7 C117.26,267.25 116.92,263.12 116.76,260 C116.61,256.88 116.45,253.33 116.41,250 C116.38,246.67 116.47,242.98 116.56,240 C116.66,237.02 116.9,233.42 116.96,232.1 Z" fill="#8491B4" stroke="#3a3a3a" stroke-width="0.45"/>
<line x1="123.46" y1="232.1" x2="123.46" y2="268.7" stroke="#3a3a3a" stroke-width="0.4" opacity="0.8"/>
<rect x="122.06" y="241.9" width="2.8" height="18.3" fill="#fff" stroke="#444" stroke-width="0.45"/>
<line x1="122.06" y1="251" x2="124.86" y2="251" stroke="#333" stroke-width="0.8"/>
<text x="123.46" y="230.5" class="lt">a</text>
<path d="M135.45,222.3 L143.05,222.3 C142.81,224.08 142.06,229.33 141.65,233 C141.23,236.67 140.48,241.47 140.55,244.3 C140.61,247.13 141.3,247.77 142.05,250 C142.8,252.23 144.36,255.7 145.05,257.7 C145.73,259.7 145.86,260.57 146.15,262 C146.43,263.43 146.68,264.73 146.75,266.3 C146.81,267.87 146.58,270.55 146.55,271.4 L131.95,271.4 C131.91,270.55 131.68,267.87 131.75,266.3 C131.81,264.73 132.06,263.43 132.35,262 C132.63,260.57 132.76,259.7 133.45,257.7 C134.13,255.7 135.7,252.23 136.45,250 C137.2,247.77 137.88,247.13 137.95,244.3 C138.01,241.47 137.26,236.67 136.85,233 C136.43,229.33 135.68,224.08 135.45,222.3 Z" fill="#91D1C2" stroke="#3a3a3a" stroke-width="0.45"/>
<line x1="139.25" y1="222.3" x2="139.25" y2="271.4" stroke="#3a3a3a" stroke-width="0.4" opacity="0.8"/>
<rect x="137.85" y="246.1" width="2.8" height="23.2" fill="#fff" stroke="#444" stroke-width="0.45"/>
<line x1="137.85" y1="268.7" x2="140.65" y2="268.7" stroke="#333" stroke-width="0.8"/>
<text x="139.25" y="220.6" class="lt">ab</text>
<rect x="35.4" y="193.8" width="113" height="147.5" fill="none" stroke="#c4c4c4" stroke-width="0.9"/>
<line x1="33.2" y1="232.4" x2="35.4" y2="232.4" stroke="#b0b0b0" stroke-width="0.6"/>
<text x="33.4" y="235.24" class="yt" style="font-size:9.8px">0.06</text>
<line x1="33.2" y1="274.2" x2="35.4" y2="274.2" stroke="#b0b0b0" stroke-width="0.6"/>
<text x="33.4" y="277.04" class="yt" style="font-size:9.8px">0.04</text>
<line x1="33.2" y1="316" x2="35.4" y2="316" stroke="#b0b0b0" stroke-width="0.6"/>
<text x="33.4" y="318.84" class="yt" style="font-size:9.8px">0.02</text>
<line x1="44.55" y1="341.3" x2="44.55" y2="343.5" stroke="#b0b0b0" stroke-width="0.6"/>
<text transform="translate(41.95,346) rotate(-64)" class="xt" style="font-size:7.7px" dy="0.7em">CK</text>
<line x1="60.34" y1="341.3" x2="60.34" y2="343.5" stroke="#b0b0b0" stroke-width="0.6"/>
<text transform="translate(56.84,343.3) rotate(-64)" class="xt" style="font-size:7.7px" dy="0.7em">2-14F2A</text>
<line x1="76.12" y1="341.3" x2="76.12" y2="343.5" stroke="#b0b0b0" stroke-width="0.6"/>
<text transform="translate(72.92,343.4) rotate(-64)" class="xt" style="font-size:7.7px" dy="0.7em">2-14F2B</text>
<line x1="91.9" y1="341.3" x2="91.9" y2="343.5" stroke="#b0b0b0" stroke-width="0.6"/>
<text transform="translate(89.1,343.5) rotate(-64)" class="xt" style="font-size:7.7px" dy="0.7em">2-14F2C</text>
<line x1="107.68" y1="341.3" x2="107.68" y2="343.5" stroke="#b0b0b0" stroke-width="0.6"/>
<text transform="translate(105.68,344.7) rotate(-64)" class="xt" style="font-size:7.7px" dy="0.7em">2-8F2A</text>
<line x1="123.46" y1="341.3" x2="123.46" y2="343.5" stroke="#b0b0b0" stroke-width="0.6"/>
<text transform="translate(122.16,345.1) rotate(-64)" class="xt" style="font-size:7.7px" dy="0.7em">2-8F2B</text>
<line x1="139.25" y1="341.3" x2="139.25" y2="343.5" stroke="#b0b0b0" stroke-width="0.6"/>
<text transform="translate(138.25,345.3) rotate(-64)" class="xt" style="font-size:7.7px" dy="0.7em">2-8F2C</text>
<text x="91.6" y="190.5" class="ti" style="font-size:9.2px" textLength="89.2" lengthAdjust="spacingAndGlyphs">Facultatively Anaerobic</text>
<text transform="translate(14.17,271) rotate(-90)" class="yl" style="font-size:9.6px" textLength="76.5" lengthAdjust="spacingAndGlyphs">Relative Abundance</text>
<line x1="178" y1="213.8" x2="289.6" y2="213.8" stroke="#e9e9e9" stroke-width="0.55"/>
<line x1="178" y1="262.8" x2="289.6" y2="262.8" stroke="#e9e9e9" stroke-width="0.55"/>
<line x1="178" y1="311.85" x2="289.6" y2="311.85" stroke="#e9e9e9" stroke-width="0.55"/>
<line x1="178" y1="238.3" x2="289.6" y2="238.3" stroke="#e2e2e2" stroke-width="0.6"/>
<line x1="178" y1="287.3" x2="289.6" y2="287.3" stroke="#e2e2e2" stroke-width="0.6"/>
<line x1="178" y1="336.4" x2="289.6" y2="336.4" stroke="#e2e2e2" stroke-width="0.6"/>
<line x1="187.04" y1="193.4" x2="187.04" y2="338.7" stroke="#e2e2e2" stroke-width="0.6"/>
<line x1="202.63" y1="193.4" x2="202.63" y2="338.7" stroke="#e2e2e2" stroke-width="0.6"/>
<line x1="218.21" y1="193.4" x2="218.21" y2="338.7" stroke="#e2e2e2" stroke-width="0.6"/>
<line x1="233.8" y1="193.4" x2="233.8" y2="338.7" stroke="#e2e2e2" stroke-width="0.6"/>
<line x1="249.39" y1="193.4" x2="249.39" y2="338.7" stroke="#e2e2e2" stroke-width="0.6"/>
<line x1="264.97" y1="193.4" x2="264.97" y2="338.7" stroke="#e2e2e2" stroke-width="0.6"/>
<line x1="280.56" y1="193.4" x2="280.56" y2="338.7" stroke="#e2e2e2" stroke-width="0.6"/>
<path d="M181.14,199.9 L192.94,199.9 C192.92,200.92 192.72,202.98 192.84,206 C192.96,209.02 193.42,213.5 193.64,218 C193.86,222.5 194.12,227.67 194.14,233 C194.16,238.33 193.91,244.55 193.74,250 C193.57,255.45 193.44,260.5 193.14,265.7 C192.84,270.9 192.14,278.62 191.94,281.2 L182.14,281.2 C181.94,278.62 181.24,270.9 180.94,265.7 C180.64,260.5 180.51,255.45 180.34,250 C180.17,244.55 179.92,238.33 179.94,233 C179.96,227.67 180.22,222.5 180.44,218 C180.66,213.5 181.12,209.02 181.24,206 C181.36,202.98 181.16,200.92 181.14,199.9 Z" fill="#E64B35" stroke="#3a3a3a" stroke-width="0.45"/>
<line x1="187.04" y1="199.9" x2="187.04" y2="281.2" stroke="#3a3a3a" stroke-width="0.4" opacity="0.8"/>
<rect x="185.64" y="217.5" width="2.8" height="40" fill="#fff" stroke="#444" stroke-width="0.45"/>
<line x1="185.64" y1="234.5" x2="188.44" y2="234.5" stroke="#333" stroke-width="0.8"/>
<text x="187.04" y="198.9" class="lt">a</text>
<path d="M196.23,223 L209.03,223 C209.09,225.83 209.34,233.83 209.43,240 C209.52,246.17 209.56,254.17 209.58,260 C209.59,265.83 209.55,270.17 209.53,275 C209.5,279.83 209.44,286.67 209.43,289 L195.83,289 C195.81,286.67 195.75,279.83 195.73,275 C195.7,270.17 195.66,265.83 195.68,260 C195.69,254.17 195.74,246.17 195.83,240 C195.92,233.83 196.16,225.83 196.23,223 Z" fill="#4DBBD5" stroke="#3a3a3a" stroke-width="0.45"/>
<line x1="202.63" y1="223" x2="202.63" y2="289" stroke="#3a3a3a" stroke-width="0.4" opacity="0.8"/>
<rect x="201.23" y="240.6" width="2.8" height="32.4" fill="#fff" stroke="#444" stroke-width="0.45"/>
<line x1="201.23" y1="257.5" x2="204.03" y2="257.5" stroke="#333" stroke-width="0.8"/>
<text x="202.63" y="221.5" class="lt">a</text>
<path d="M212.01,240.3 L224.41,240.3 C224.35,241.42 224.16,244.55 224.01,247 C223.86,249.45 223.62,252.5 223.51,255 C223.41,257.5 223.35,259.5 223.36,262 C223.38,264.5 223.51,266.95 223.61,270 C223.71,273.05 223.91,278.58 223.96,280.3 L212.46,280.3 C212.52,278.58 212.71,273.05 212.81,270 C212.91,266.95 213.05,264.5 213.06,262 C213.08,259.5 213.02,257.5 212.91,255 C212.81,252.5 212.56,249.45 212.41,247 C212.26,244.55 212.08,241.42 212.01,240.3 Z" fill="#00A087" stroke="#3a3a3a" stroke-width="0.45"/>
<line x1="218.21" y1="240.3" x2="218.21" y2="280.3" stroke="#3a3a3a" stroke-width="0.4" opacity="0.8"/>
<rect x="216.81" y="249" width="2.8" height="19.5" fill="#fff" stroke="#444" stroke-width="0.45"/>
<line x1="216.81" y1="257.5" x2="219.61" y2="257.5" stroke="#333" stroke-width="0.8"/>
<text x="218.21" y="239.4" class="lt">a</text>
<path d="M229.3,228.9 L238.3,228.9 C238.23,230.75 238.02,236.15 237.9,240 C237.78,243.85 237.7,247.83 237.6,252 C237.5,256.17 237.12,260.33 237.3,265 C237.48,269.67 238.25,275.37 238.7,280 C239.15,284.63 239.72,288.63 240,292.8 C240.28,296.97 240.32,300.7 240.4,305 C240.48,309.3 240.58,314.02 240.5,318.6 C240.42,323.18 240,330.18 239.9,332.5 L227.7,332.5 C227.6,330.18 227.18,323.18 227.1,318.6 C227.02,314.02 227.12,309.3 227.2,305 C227.28,300.7 227.32,296.97 227.6,292.8 C227.88,288.63 228.45,284.63 228.9,280 C229.35,275.37 230.12,269.67 230.3,265 C230.48,260.33 230.1,256.17 230,252 C229.9,247.83 229.82,243.85 229.7,240 C229.58,236.15 229.37,230.75 229.3,228.9 Z" fill="#3C5488" stroke="#3a3a3a" stroke-width="0.45"/>
<line x1="233.8" y1="228.9" x2="233.8" y2="332.5" stroke="#3a3a3a" stroke-width="0.4" opacity="0.8"/>
<rect x="232.4" y="264.1" width="2.8" height="51.2" fill="#fff" stroke="#444" stroke-width="0.45"/>
<line x1="232.4" y1="298.5" x2="235.2" y2="298.5" stroke="#333" stroke-width="0.8"/>
<text x="233.8" y="227.5" class="lt">a</text>
<path d="M243.49,246.5 L255.29,246.5 C255.17,246.92 254.97,248.08 254.59,249 C254.2,249.92 253.34,251.13 252.99,252 C252.64,252.87 252.52,253.37 252.49,254.2 C252.45,255.03 252.67,256 252.79,257 C252.9,258 253.12,259.67 253.19,260.2 L245.59,260.2 C245.65,259.67 245.87,258 245.99,257 C246.1,256 246.32,255.03 246.29,254.2 C246.25,253.37 246.14,252.87 245.79,252 C245.44,251.13 244.57,249.92 244.19,249 C243.8,248.08 243.6,246.92 243.49,246.5 Z" fill="#F39B7F" stroke="#3a3a3a" stroke-width="0.45"/>
<line x1="249.39" y1="246.5" x2="249.39" y2="260.2" stroke="#3a3a3a" stroke-width="0.4" opacity="0.8"/>
<rect x="247.99" y="247.8" width="2.8" height="7.2" fill="#fff" stroke="#444" stroke-width="0.45"/>
<line x1="247.99" y1="249.2" x2="250.79" y2="249.2" stroke="#333" stroke-width="0.8"/>
<text x="249.39" y="244.7" class="lt">a</text>
<path d="M258.17,227.4 L271.77,227.4 C271.67,228.17 271.47,229.9 271.17,232 C270.87,234.1 270.38,236.33 269.97,240 C269.56,243.67 269.12,249.33 268.72,254 C268.32,258.67 267.91,263 267.57,268 C267.23,273 266.69,279.33 266.67,284 C266.66,288.67 267.22,292.03 267.47,296 C267.72,299.97 268.06,305.83 268.17,307.8 L261.77,307.8 C261.89,305.83 262.22,299.97 262.47,296 C262.72,292.03 263.29,288.67 263.27,284 C263.26,279.33 262.71,273 262.37,268 C262.03,263 261.62,258.67 261.22,254 C260.82,249.33 260.38,243.67 259.97,240 C259.56,236.33 259.07,234.1 258.77,232 C258.47,229.9 258.27,228.17 258.17,227.4 Z" fill="#8491B4" stroke="#3a3a3a" stroke-width="0.45"/>
<line x1="264.97" y1="227.4" x2="264.97" y2="307.8" stroke="#3a3a3a" stroke-width="0.4" opacity="0.8"/>
<rect x="263.57" y="229.6" width="2.8" height="39.2" fill="#fff" stroke="#444" stroke-width="0.45"/>
<line x1="263.57" y1="230.6" x2="266.37" y2="230.6" stroke="#333" stroke-width="0.8"/>
<text x="264.97" y="226.4" class="lt">a</text>
<path d="M273.91,262.3 L287.21,262.3 C287.3,263.27 287.88,265.82 287.76,268.1 C287.63,270.38 286.94,272.95 286.46,276 C285.98,279.05 285.09,282.73 284.86,286.4 C284.63,290.07 284.98,293.78 285.06,298 C285.14,302.22 285.31,309.42 285.36,311.7 L275.76,311.7 C275.81,309.42 275.98,302.22 276.06,298 C276.14,293.78 276.49,290.07 276.26,286.4 C276.03,282.73 275.14,279.05 274.66,276 C274.18,272.95 273.48,270.38 273.36,268.1 C273.23,265.82 273.82,263.27 273.91,262.3 Z" fill="#91D1C2" stroke="#3a3a3a" stroke-width="0.45"/>
<line x1="280.56" y1="262.3" x2="280.56" y2="311.7" stroke="#3a3a3a" stroke-width="0.4" opacity="0.8"/>
<rect x="279.16" y="270.9" width="2.8" height="23" fill="#fff" stroke="#444" stroke-width="0.45"/>
<line x1="279.16" y1="278.2" x2="281.96" y2="278.2" stroke="#333" stroke-width="0.8"/>
<text x="280.56" y="261.1" class="lt">a</text>
<rect x="178" y="193.4" width="111.6" height="145.3" fill="none" stroke="#c4c4c4" stroke-width="0.9"/>
<line x1="175.8" y1="238.3" x2="178" y2="238.3" stroke="#b0b0b0" stroke-width="0.6"/>
<text x="176" y="241.06" class="yt" style="font-size:9.5px">0.7</text>
<line x1="175.8" y1="287.3" x2="178" y2="287.3" stroke="#b0b0b0" stroke-width="0.6"/>
<text x="176" y="290.06" class="yt" style="font-size:9.5px">0.6</text>
<line x1="175.8" y1="336.4" x2="178" y2="336.4" stroke="#b0b0b0" stroke-width="0.6"/>
<text x="176" y="339.15" class="yt" style="font-size:9.5px">0.5</text>
<line x1="187.04" y1="338.7" x2="187.04" y2="340.9" stroke="#b0b0b0" stroke-width="0.6"/>
<text transform="translate(184.44,343) rotate(-64)" class="xt" style="font-size:7.59px" dy="0.7em">CK</text>
<line x1="202.63" y1="338.7" x2="202.63" y2="340.9" stroke="#b0b0b0" stroke-width="0.6"/>
<text transform="translate(199.13,340.3) rotate(-64)" class="xt" style="font-size:7.59px" dy="0.7em">2-14F2A</text>
<line x1="218.21" y1="338.7" x2="218.21" y2="340.9" stroke="#b0b0b0" stroke-width="0.6"/>
<text transform="translate(215.01,340.4) rotate(-64)" class="xt" style="font-size:7.59px" dy="0.7em">2-14F2B</text>
<line x1="233.8" y1="338.7" x2="233.8" y2="340.9" stroke="#b0b0b0" stroke-width="0.6"/>
<text transform="translate(231,340.5) rotate(-64)" class="xt" style="font-size:7.59px" dy="0.7em">2-14F2C</text>
<line x1="249.39" y1="338.7" x2="249.39" y2="340.9" stroke="#b0b0b0" stroke-width="0.6"/>
<text transform="translate(247.39,341.7) rotate(-64)" class="xt" style="font-size:7.59px" dy="0.7em">2-8F2A</text>
<line x1="264.97" y1="338.7" x2="264.97" y2="340.9" stroke="#b0b0b0" stroke-width="0.6"/>
<text transform="translate(263.67,342.1) rotate(-64)" class="xt" style="font-size:7.59px" dy="0.7em">2-8F2B</text>
<line x1="280.56" y1="338.7" x2="280.56" y2="340.9" stroke="#b0b0b0" stroke-width="0.6"/>
<text transform="translate(279.56,342.3) rotate(-64)" class="xt" style="font-size:7.59px" dy="0.7em">2-8F2C</text>
<text x="240.1" y="190.5" class="ti" style="font-size:8.8px" textLength="53.2" lengthAdjust="spacingAndGlyphs">Gram Negative</text>
<text transform="translate(160.64,265) rotate(-90)" class="yl" style="font-size:9.2px" textLength="72.5" lengthAdjust="spacingAndGlyphs">Relative Abundance</text>
<line x1="316.2" y1="220.6" x2="422.1" y2="220.6" stroke="#e9e9e9" stroke-width="0.55"/>
<line x1="316.2" y1="268.65" x2="422.1" y2="268.65" stroke="#e9e9e9" stroke-width="0.55"/>
<line x1="316.2" y1="316.7" x2="422.1" y2="316.7" stroke="#e9e9e9" stroke-width="0.55"/>
<line x1="316.2" y1="196.6" x2="422.1" y2="196.6" stroke="#e2e2e2" stroke-width="0.6"/>
<line x1="316.2" y1="244.6" x2="422.1" y2="244.6" stroke="#e2e2e2" stroke-width="0.6"/>
<line x1="316.2" y1="292.7" x2="422.1" y2="292.7" stroke="#e2e2e2" stroke-width="0.6"/>
<line x1="324.78" y1="194.1" x2="324.78" y2="336.9" stroke="#e2e2e2" stroke-width="0.6"/>
<line x1="339.57" y1="194.1" x2="339.57" y2="336.9" stroke="#e2e2e2" stroke-width="0.6"/>
<line x1="354.36" y1="194.1" x2="354.36" y2="336.9" stroke="#e2e2e2" stroke-width="0.6"/>
<line x1="369.15" y1="194.1" x2="369.15" y2="336.9" stroke="#e2e2e2" stroke-width="0.6"/>
<line x1="383.94" y1="194.1" x2="383.94" y2="336.9" stroke="#e2e2e2" stroke-width="0.6"/>
<line x1="398.73" y1="194.1" x2="398.73" y2="336.9" stroke="#e2e2e2" stroke-width="0.6"/>
<line x1="413.52" y1="194.1" x2="413.52" y2="336.9" stroke="#e2e2e2" stroke-width="0.6"/>
<path d="M319.78,250.1 L329.78,250.1 C329.69,251.65 329.3,256.08 329.23,259.4 C329.16,262.72 329.15,265.73 329.38,270 C329.6,274.27 330.21,280.33 330.58,285 C330.95,289.67 331.36,294.5 331.58,298 C331.8,301.5 331.91,302.67 331.88,306 C331.85,309.33 331.57,313.95 331.38,318 C331.19,322.05 330.84,328.25 330.73,330.3 L318.83,330.3 C318.72,328.25 318.37,322.05 318.18,318 C317.99,313.95 317.71,309.33 317.68,306 C317.65,302.67 317.76,301.5 317.98,298 C318.2,294.5 318.61,289.67 318.98,285 C319.35,280.33 319.95,274.27 320.18,270 C320.4,265.73 320.4,262.72 320.33,259.4 C320.26,256.08 319.87,251.65 319.78,250.1 Z" fill="#E64B35" stroke="#3a3a3a" stroke-width="0.45"/>
<line x1="324.78" y1="250.1" x2="324.78" y2="330.3" stroke="#3a3a3a" stroke-width="0.4" opacity="0.8"/>
<rect x="323.38" y="273.7" width="2.8" height="40.1" fill="#fff" stroke="#444" stroke-width="0.45"/>
<line x1="323.38" y1="296.5" x2="326.18" y2="296.5" stroke="#333" stroke-width="0.8"/>
<text x="324.78" y="248.2" class="lt">a</text>
<path d="M334.07,243 L345.07,243 C345.12,245 345.25,250.5 345.37,255 C345.49,259.5 345.74,265 345.77,270 C345.8,275 345.67,280.33 345.57,285 C345.47,289.67 345.31,294.3 345.17,298 C345.03,301.7 344.79,305.67 344.72,307.2 L334.42,307.2 C334.34,305.67 334.11,301.7 333.97,298 C333.83,294.3 333.67,289.67 333.57,285 C333.47,280.33 333.34,275 333.37,270 C333.4,265 333.65,259.5 333.77,255 C333.89,250.5 334.02,245 334.07,243 Z" fill="#4DBBD5" stroke="#3a3a3a" stroke-width="0.45"/>
<line x1="339.57" y1="243" x2="339.57" y2="307.2" stroke="#3a3a3a" stroke-width="0.4" opacity="0.8"/>
<rect x="338.17" y="259" width="2.8" height="30.7" fill="#fff" stroke="#444" stroke-width="0.45"/>
<line x1="338.17" y1="273.3" x2="340.97" y2="273.3" stroke="#333" stroke-width="0.8"/>
<text x="339.57" y="240.8" class="lt">a</text>
<path d="M349.46,250.8 L359.26,250.8 C359.18,251.67 358.91,253.97 358.76,256 C358.61,258.03 358.38,260.67 358.36,263 C358.34,265.33 358.46,267.67 358.66,270 C358.86,272.33 359.33,274.83 359.56,277 C359.78,279.17 360.03,280.73 360.01,283 C359.99,285.27 359.55,289.33 359.46,290.6 L349.26,290.6 C349.17,289.33 348.73,285.27 348.71,283 C348.69,280.73 348.93,279.17 349.16,277 C349.38,274.83 349.86,272.33 350.06,270 C350.26,267.67 350.38,265.33 350.36,263 C350.34,260.67 350.11,258.03 349.96,256 C349.81,253.97 349.54,251.67 349.46,250.8 Z" fill="#00A087" stroke="#3a3a3a" stroke-width="0.45"/>
<line x1="354.36" y1="250.8" x2="354.36" y2="290.6" stroke="#3a3a3a" stroke-width="0.4" opacity="0.8"/>
<rect x="352.96" y="263" width="2.8" height="18.7" fill="#fff" stroke="#444" stroke-width="0.45"/>
<line x1="352.96" y1="273.7" x2="355.76" y2="273.7" stroke="#333" stroke-width="0.8"/>
<text x="354.36" y="249" class="lt">a</text>
<path d="M363.4,200.2 L374.9,200.2 C374.79,201.83 374.51,205.63 374.25,210 C373.99,214.37 373.57,220.57 373.35,226.4 C373.13,232.23 373.04,238.03 372.95,245 C372.86,251.97 372.78,261.53 372.8,268.2 C372.82,274.87 372.96,279.4 373.05,285 C373.14,290.6 373.3,299 373.35,301.8 L364.95,301.8 C365,299 365.16,290.6 365.25,285 C365.34,279.4 365.48,274.87 365.5,268.2 C365.52,261.53 365.44,251.97 365.35,245 C365.26,238.03 365.17,232.23 364.95,226.4 C364.73,220.57 364.31,214.37 364.05,210 C363.79,205.63 363.51,201.83 363.4,200.2 Z" fill="#3C5488" stroke="#3a3a3a" stroke-width="0.45"/>
<line x1="369.15" y1="200.2" x2="369.15" y2="301.8" stroke="#3a3a3a" stroke-width="0.4" opacity="0.8"/>
<rect x="367.75" y="217.6" width="2.8" height="49.8" fill="#fff" stroke="#444" stroke-width="0.45"/>
<line x1="367.75" y1="233.3" x2="370.55" y2="233.3" stroke="#333" stroke-width="0.8"/>
<text x="369.15" y="199.4" class="lt">a</text>
<path d="M380.09,271.2 L387.79,271.2 C387.7,271.5 387.47,272.32 387.24,273 C387.02,273.68 386.41,274.55 386.44,275.3 C386.47,276.05 386.82,276.63 387.44,277.5 C388.06,278.37 389.57,279.67 390.14,280.5 C390.71,281.33 390.72,281.97 390.84,282.5 C390.96,283.03 390.84,283.5 390.84,283.7 L377.04,283.7 C377.04,283.5 376.92,283.03 377.04,282.5 C377.16,281.97 377.17,281.33 377.74,280.5 C378.31,279.67 379.82,278.37 380.44,277.5 C381.06,276.63 381.41,276.05 381.44,275.3 C381.47,274.55 380.87,273.68 380.64,273 C380.42,272.32 380.18,271.5 380.09,271.2 Z" fill="#F39B7F" stroke="#3a3a3a" stroke-width="0.45"/>
<line x1="383.94" y1="271.2" x2="383.94" y2="283.7" stroke="#3a3a3a" stroke-width="0.4" opacity="0.8"/>
<rect x="382.54" y="276.6" width="2.8" height="5.8" fill="#fff" stroke="#444" stroke-width="0.45"/>
<line x1="382.54" y1="279.5" x2="385.34" y2="279.5" stroke="#333" stroke-width="0.8"/>
<text x="383.94" y="268" class="lt">a</text>
<path d="M395.03,225.1 L402.43,225.1 C402.3,227.58 401.91,235.02 401.63,240 C401.35,244.98 400.95,251.12 400.73,255 C400.51,258.88 400.34,260.55 400.33,263.3 C400.32,266.05 400.31,267.98 400.68,271.5 C401.06,275.02 401.97,280.98 402.58,284.4 C403.19,287.82 403.93,290.07 404.33,292 C404.73,293.93 404.85,294.08 404.98,296 C405.11,297.92 405.11,302.25 405.13,303.5 L392.33,303.5 C392.36,302.25 392.35,297.92 392.48,296 C392.61,294.08 392.73,293.93 393.13,292 C393.53,290.07 394.27,287.82 394.88,284.4 C395.49,280.98 396.41,275.02 396.78,271.5 C397.16,267.98 397.14,266.05 397.13,263.3 C397.12,260.55 396.95,258.88 396.73,255 C396.51,251.12 396.11,244.98 395.83,240 C395.55,235.02 395.16,227.58 395.03,225.1 Z" fill="#8491B4" stroke="#3a3a3a" stroke-width="0.45"/>
<line x1="398.73" y1="225.1" x2="398.73" y2="303.5" stroke="#3a3a3a" stroke-width="0.4" opacity="0.8"/>
<rect x="397.33" y="262.2" width="2.8" height="37.8" fill="#fff" stroke="#444" stroke-width="0.45"/>
<line x1="397.33" y1="299" x2="400.13" y2="299" stroke="#333" stroke-width="0.8"/>
<text x="398.73" y="222.7" class="lt">a</text>
<path d="M408.47,221.2 L418.57,221.2 C418.42,222.77 417.68,227.47 417.67,230.6 C417.66,233.73 418.12,236.17 418.52,240 C418.92,243.83 419.82,249.93 420.07,253.6 C420.32,257.27 420.07,259.5 420.02,262 C419.97,264.5 419.81,267.5 419.77,268.6 L407.27,268.6 C407.23,267.5 407.07,264.5 407.02,262 C406.97,259.5 406.72,257.27 406.97,253.6 C407.22,249.93 408.12,243.83 408.52,240 C408.92,236.17 409.38,233.73 409.37,230.6 C409.36,227.47 408.62,222.77 408.47,221.2 Z" fill="#91D1C2" stroke="#3a3a3a" stroke-width="0.45"/>
<line x1="413.52" y1="221.2" x2="413.52" y2="268.6" stroke="#3a3a3a" stroke-width="0.4" opacity="0.8"/>
<rect x="412.12" y="237.9" width="2.8" height="23.6" fill="#fff" stroke="#444" stroke-width="0.45"/>
<line x1="412.12" y1="254.6" x2="414.92" y2="254.6" stroke="#333" stroke-width="0.8"/>
<text x="413.52" y="218.4" class="lt">a</text>
<rect x="316.2" y="194.1" width="105.9" height="142.8" fill="none" stroke="#c4c4c4" stroke-width="0.9"/>
<line x1="314" y1="196.6" x2="316.2" y2="196.6" stroke="#b0b0b0" stroke-width="0.6"/>
<text x="314.2" y="199.24" class="yt" style="font-size:9.1px">0.5</text>
<line x1="314" y1="244.6" x2="316.2" y2="244.6" stroke="#b0b0b0" stroke-width="0.6"/>
<text x="314.2" y="247.24" class="yt" style="font-size:9.1px">0.4</text>
<line x1="314" y1="292.7" x2="316.2" y2="292.7" stroke="#b0b0b0" stroke-width="0.6"/>
<text x="314.2" y="295.34" class="yt" style="font-size:9.1px">0.3</text>
<line x1="324.78" y1="336.9" x2="324.78" y2="339.1" stroke="#b0b0b0" stroke-width="0.6"/>
<text transform="translate(322.18,341.6) rotate(-64)" class="xt" style="font-size:7.28px" dy="0.7em">CK</text>
<line x1="339.57" y1="336.9" x2="339.57" y2="339.1" stroke="#b0b0b0" stroke-width="0.6"/>
<text transform="translate(336.07,338.9) rotate(-64)" class="xt" style="font-size:7.28px" dy="0.7em">2-14F2A</text>
<line x1="354.36" y1="336.9" x2="354.36" y2="339.1" stroke="#b0b0b0" stroke-width="0.6"/>
<text transform="translate(351.16,339) rotate(-64)" class="xt" style="font-size:7.28px" dy="0.7em">2-14F2B</text>
<line x1="369.15" y1="336.9" x2="369.15" y2="339.1" stroke="#b0b0b0" stroke-width="0.6"/>
<text transform="translate(366.35,339.1) rotate(-64)" class="xt" style="font-size:7.28px" dy="0.7em">2-14F2C</text>
<line x1="383.94" y1="336.9" x2="383.94" y2="339.1" stroke="#b0b0b0" stroke-width="0.6"/>
<text transform="translate(381.94,340.3) rotate(-64)" class="xt" style="font-size:7.28px" dy="0.7em">2-8F2A</text>
<line x1="398.73" y1="336.9" x2="398.73" y2="339.1" stroke="#b0b0b0" stroke-width="0.6"/>
<text transform="translate(397.43,340.7) rotate(-64)" class="xt" style="font-size:7.28px" dy="0.7em">2-8F2B</text>
<line x1="413.52" y1="336.9" x2="413.52" y2="339.1" stroke="#b0b0b0" stroke-width="0.6"/>
<text transform="translate(412.52,340.9) rotate(-64)" class="xt" style="font-size:7.28px" dy="0.7em">2-8F2C</text>
<text x="368.1" y="190" class="ti" style="font-size:8.4px" textLength="47" lengthAdjust="spacingAndGlyphs">Gram Positive</text>
<text transform="translate(301.7,265.3) rotate(-90)" class="yl" style="font-size:9.4px" textLength="75.1" lengthAdjust="spacingAndGlyphs">Relative Abundance</text>
<line x1="39" y1="407.8" x2="148.5" y2="407.8" stroke="#e9e9e9" stroke-width="0.55"/>
<line x1="39" y1="440.8" x2="148.5" y2="440.8" stroke="#e9e9e9" stroke-width="0.55"/>
<line x1="39" y1="473.8" x2="148.5" y2="473.8" stroke="#e9e9e9" stroke-width="0.55"/>
<line x1="39" y1="506.8" x2="148.5" y2="506.8" stroke="#e9e9e9" stroke-width="0.55"/>
<line x1="39" y1="391.3" x2="148.5" y2="391.3" stroke="#e2e2e2" stroke-width="0.6"/>
<line x1="39" y1="424.3" x2="148.5" y2="424.3" stroke="#e2e2e2" stroke-width="0.6"/>
<line x1="39" y1="457.3" x2="148.5" y2="457.3" stroke="#e2e2e2" stroke-width="0.6"/>
<line x1="39" y1="490.3" x2="148.5" y2="490.3" stroke="#e2e2e2" stroke-width="0.6"/>
<line x1="47.87" y1="391.1" x2="47.87" y2="520.8" stroke="#e2e2e2" stroke-width="0.6"/>
<line x1="63.16" y1="391.1" x2="63.16" y2="520.8" stroke="#e2e2e2" stroke-width="0.6"/>
<line x1="78.46" y1="391.1" x2="78.46" y2="520.8" stroke="#e2e2e2" stroke-width="0.6"/>
<line x1="93.75" y1="391.1" x2="93.75" y2="520.8" stroke="#e2e2e2" stroke-width="0.6"/>
<line x1="109.04" y1="391.1" x2="109.04" y2="520.8" stroke="#e2e2e2" stroke-width="0.6"/>
<line x1="124.34" y1="391.1" x2="124.34" y2="520.8" stroke="#e2e2e2" stroke-width="0.6"/>
<line x1="139.63" y1="391.1" x2="139.63" y2="520.8" stroke="#e2e2e2" stroke-width="0.6"/>
<path d="M41.52,397.2 L54.22,397.2 C54.13,398.17 53.68,400.7 53.67,403 C53.66,405.3 54.01,408.17 54.17,411 C54.33,413.83 54.62,416.5 54.62,420 C54.62,423.5 54.35,427.83 54.17,432 C54,436.17 53.74,440.9 53.57,445 C53.4,449.1 53.24,454.67 53.17,456.6 L42.57,456.6 C42.5,454.67 42.34,449.1 42.17,445 C42,440.9 41.75,436.17 41.57,432 C41.4,427.83 41.12,423.5 41.12,420 C41.12,416.5 41.41,413.83 41.57,411 C41.73,408.17 42.08,405.3 42.07,403 C42.06,400.7 41.61,398.17 41.52,397.2 Z" fill="#E64B35" stroke="#3a3a3a" stroke-width="0.45"/>
<line x1="47.87" y1="397.2" x2="47.87" y2="456.6" stroke="#3a3a3a" stroke-width="0.4" opacity="0.8"/>
<rect x="46.47" y="410.3" width="2.8" height="29.5" fill="#fff" stroke="#444" stroke-width="0.45"/>
<line x1="46.47" y1="422.1" x2="49.27" y2="422.1" stroke="#333" stroke-width="0.8"/>
<text x="47.87" y="396.6" class="lt">a</text>
<path d="M56.71,503.1 L69.61,503.1 C69.64,503.55 69.84,504.9 69.76,505.8 C69.69,506.7 69.26,508.05 69.16,508.5 L57.16,508.5 C57.06,508.05 56.64,506.7 56.56,505.8 C56.49,504.9 56.69,503.55 56.71,503.1 Z" fill="#4DBBD5" stroke="#3a3a3a" stroke-width="0.45"/>
<line x1="63.16" y1="503.1" x2="63.16" y2="508.5" stroke="#3a3a3a" stroke-width="0.4" opacity="0.8"/>
<rect x="61.76" y="504.5" width="2.8" height="2.7" fill="#fff" stroke="#444" stroke-width="0.45"/>
<line x1="61.76" y1="505.8" x2="64.56" y2="505.8" stroke="#333" stroke-width="0.8"/>
<text x="63.16" y="499.6" class="lt">b</text>
<path d="M72.01,503.8 L84.91,503.8 C84.93,504.43 85.12,506.33 85.06,507.6 C84.99,508.87 84.6,510.77 84.51,511.4 L72.41,511.4 C72.32,510.77 71.92,508.87 71.86,507.6 C71.79,506.33 71.98,504.43 72.01,503.8 Z" fill="#00A087" stroke="#3a3a3a" stroke-width="0.45"/>
<line x1="78.46" y1="503.8" x2="78.46" y2="511.4" stroke="#3a3a3a" stroke-width="0.4" opacity="0.8"/>
<rect x="77.06" y="505.5" width="2.8" height="4" fill="#fff" stroke="#444" stroke-width="0.45"/>
<line x1="77.06" y1="507.6" x2="79.86" y2="507.6" stroke="#333" stroke-width="0.8"/>
<text x="78.46" y="501.4" class="lt">b</text>
<path d="M86.75,510.4 L100.75,510.4 C100.58,510.55 100.42,510.95 99.75,511.3 C99.08,511.65 97.15,512.08 96.75,512.5 C96.35,512.92 97.1,513.35 97.35,513.8 C97.6,514.25 98.1,514.97 98.25,515.2 L89.25,515.2 C89.4,514.97 89.9,514.25 90.15,513.8 C90.4,513.35 91.15,512.92 90.75,512.5 C90.35,512.08 88.42,511.65 87.75,511.3 C87.08,510.95 86.92,510.55 86.75,510.4 Z" fill="#3C5488" stroke="#3a3a3a" stroke-width="0.45"/>
<line x1="93.75" y1="510.4" x2="93.75" y2="515.2" stroke="#3a3a3a" stroke-width="0.4" opacity="0.8"/>
<rect x="92.35" y="511.5" width="2.8" height="1" fill="#fff" stroke="#444" stroke-width="0.45"/>
<line x1="92.35" y1="512" x2="95.15" y2="512" stroke="#333" stroke-width="0.8"/>
<text x="93.75" y="508.4" class="lt">b</text>
<path d="M102.54,509.1 L115.54,509.1 C115.54,509.27 115.54,509.93 115.54,510.1 L102.54,510.1 C102.54,509.93 102.54,509.27 102.54,509.1 Z" fill="#F39B7F" stroke="#333" stroke-width="0.6"/>
<line x1="106.54" y1="509.6" x2="111.54" y2="509.6" stroke="#222" stroke-width="0.8"/>
<line x1="109.04" y1="509.1" x2="109.04" y2="510.1" stroke="#3a3a3a" stroke-width="0.4" opacity="0.8"/>
<text x="109.04" y="506.4" class="lt">b</text>
<path d="M117.89,503.7 L130.79,503.7 C130.81,504.5 130.98,506.83 130.94,508.5 C130.89,510.17 130.6,512.83 130.54,513.7 L118.14,513.7 C118.07,512.83 117.78,510.17 117.74,508.5 C117.69,506.83 117.86,504.5 117.89,503.7 Z" fill="#8491B4" stroke="#3a3a3a" stroke-width="0.45"/>
<line x1="124.34" y1="503.7" x2="124.34" y2="513.7" stroke="#3a3a3a" stroke-width="0.4" opacity="0.8"/>
<rect x="122.94" y="506.7" width="2.8" height="4.7" fill="#fff" stroke="#444" stroke-width="0.45"/>
<line x1="122.94" y1="509" x2="125.74" y2="509" stroke="#333" stroke-width="0.8"/>
<text x="124.34" y="500.8" class="lt">b</text>
<path d="M132.93,510.9 L146.33,510.9 C146.33,511.07 146.33,511.73 146.33,511.9 L132.93,511.9 C132.93,511.73 132.93,511.07 132.93,510.9 Z" fill="#91D1C2" stroke="#333" stroke-width="0.6"/>
<line x1="137.13" y1="511.4" x2="142.13" y2="511.4" stroke="#222" stroke-width="0.8"/>
<line x1="139.63" y1="510.9" x2="139.63" y2="511.9" stroke="#3a3a3a" stroke-width="0.4" opacity="0.8"/>
<text x="139.63" y="507.8" class="lt">b</text>
<rect x="39" y="391.1" width="109.5" height="129.7" fill="none" stroke="#c4c4c4" stroke-width="0.9"/>
<line x1="36.8" y1="391.3" x2="39" y2="391.3" stroke="#b0b0b0" stroke-width="0.6"/>
<text x="37" y="393.82" class="yt" style="font-size:8.7px">0.8</text>
<line x1="36.8" y1="424.3" x2="39" y2="424.3" stroke="#b0b0b0" stroke-width="0.6"/>
<text x="37" y="426.82" class="yt" style="font-size:8.7px">0.6</text>
<line x1="36.8" y1="457.3" x2="39" y2="457.3" stroke="#b0b0b0" stroke-width="0.6"/>
<text x="37" y="459.82" class="yt" style="font-size:8.7px">0.4</text>
<line x1="36.8" y1="490.3" x2="39" y2="490.3" stroke="#b0b0b0" stroke-width="0.6"/>
<text x="37" y="492.82" class="yt" style="font-size:8.7px">0.2</text>
<line x1="47.87" y1="520.8" x2="47.87" y2="523" stroke="#b0b0b0" stroke-width="0.6"/>
<text transform="translate(45.27,525.5) rotate(-64)" class="xt" style="font-size:7.18px" dy="0.7em">CK</text>
<line x1="63.16" y1="520.8" x2="63.16" y2="523" stroke="#b0b0b0" stroke-width="0.6"/>
<text transform="translate(59.66,522.8) rotate(-64)" class="xt" style="font-size:7.18px" dy="0.7em">2-14F2A</text>
<line x1="78.46" y1="520.8" x2="78.46" y2="523" stroke="#b0b0b0" stroke-width="0.6"/>
<text transform="translate(75.26,522.9) rotate(-64)" class="xt" style="font-size:7.18px" dy="0.7em">2-14F2B</text>
<line x1="93.75" y1="520.8" x2="93.75" y2="523" stroke="#b0b0b0" stroke-width="0.6"/>
<text transform="translate(90.95,523) rotate(-64)" class="xt" style="font-size:7.18px" dy="0.7em">2-14F2C</text>
<line x1="109.04" y1="520.8" x2="109.04" y2="523" stroke="#b0b0b0" stroke-width="0.6"/>
<text transform="translate(107.04,524.2) rotate(-64)" class="xt" style="font-size:7.18px" dy="0.7em">2-8F2A</text>
<line x1="124.34" y1="520.8" x2="124.34" y2="523" stroke="#b0b0b0" stroke-width="0.6"/>
<text transform="translate(123.04,524.6) rotate(-64)" class="xt" style="font-size:7.18px" dy="0.7em">2-8F2B</text>
<line x1="139.63" y1="520.8" x2="139.63" y2="523" stroke="#b0b0b0" stroke-width="0.6"/>
<text transform="translate(138.63,524.8) rotate(-64)" class="xt" style="font-size:7.18px" dy="0.7em">2-8F2C</text>
<text x="95.3" y="385.8" class="ti" style="font-size:8.6px" textLength="96.1" lengthAdjust="spacingAndGlyphs">Mobile Element Containing</text>
<text transform="translate(21.67,454.5) rotate(-90)" class="yl" style="font-size:9.3px" textLength="73.5" lengthAdjust="spacingAndGlyphs">Relative Abundance</text>
<line x1="176" y1="421.55" x2="288.5" y2="421.55" stroke="#e9e9e9" stroke-width="0.55"/>
<line x1="176" y1="463.65" x2="288.5" y2="463.65" stroke="#e9e9e9" stroke-width="0.55"/>
<line x1="176" y1="505.75" x2="288.5" y2="505.75" stroke="#e9e9e9" stroke-width="0.55"/>
<line x1="176" y1="400.5" x2="288.5" y2="400.5" stroke="#e2e2e2" stroke-width="0.6"/>
<line x1="176" y1="442.6" x2="288.5" y2="442.6" stroke="#e2e2e2" stroke-width="0.6"/>
<line x1="176" y1="484.7" x2="288.5" y2="484.7" stroke="#e2e2e2" stroke-width="0.6"/>
<line x1="185.11" y1="390.5" x2="185.11" y2="520" stroke="#e2e2e2" stroke-width="0.6"/>
<line x1="200.83" y1="390.5" x2="200.83" y2="520" stroke="#e2e2e2" stroke-width="0.6"/>
<line x1="216.54" y1="390.5" x2="216.54" y2="520" stroke="#e2e2e2" stroke-width="0.6"/>
<line x1="232.25" y1="390.5" x2="232.25" y2="520" stroke="#e2e2e2" stroke-width="0.6"/>
<line x1="247.96" y1="390.5" x2="247.96" y2="520" stroke="#e2e2e2" stroke-width="0.6"/>
<line x1="263.67" y1="390.5" x2="263.67" y2="520" stroke="#e2e2e2" stroke-width="0.6"/>
<line x1="279.39" y1="390.5" x2="279.39" y2="520" stroke="#e2e2e2" stroke-width="0.6"/>
<path d="M179.91,396.7 L190.31,396.7 C190.28,398.08 190.22,401.15 190.11,405 C190,408.85 189.6,415.3 189.66,419.8 C189.73,424.3 190.25,428.47 190.51,432 C190.77,435.53 191,438.07 191.21,441 C191.43,443.93 191.7,446.43 191.81,449.6 C191.92,452.77 191.86,456.97 191.86,460 C191.86,463.03 191.82,466.5 191.81,467.8 L178.41,467.8 C178.4,466.5 178.36,463.03 178.36,460 C178.36,456.97 178.3,452.77 178.41,449.6 C178.52,446.43 178.8,443.93 179.01,441 C179.23,438.07 179.45,435.53 179.71,432 C179.97,428.47 180.5,424.3 180.56,419.8 C180.63,415.3 180.22,408.85 180.11,405 C180,401.15 179.95,398.08 179.91,396.7 Z" fill="#E64B35" stroke="#3a3a3a" stroke-width="0.45"/>
<line x1="185.11" y1="396.7" x2="185.11" y2="467.8" stroke="#3a3a3a" stroke-width="0.4" opacity="0.8"/>
<rect x="183.71" y="419.1" width="2.8" height="35.3" fill="#fff" stroke="#444" stroke-width="0.45"/>
<line x1="183.71" y1="441.4" x2="186.51" y2="441.4" stroke="#333" stroke-width="0.8"/>
<text x="185.11" y="395.2" class="lt">a</text>
<path d="M196.03,497.9 L205.63,497.9 C205.64,498.25 205.64,499.4 205.73,500 C205.81,500.6 205.79,501 206.13,501.5 C206.46,502 207.41,502.42 207.73,503 C208.04,503.58 207.98,504.67 208.03,505 L193.63,505 C193.68,504.67 193.61,503.58 193.93,503 C194.24,502.42 195.19,502 195.53,501.5 C195.86,501 195.84,500.6 195.93,500 C196.01,499.4 196.01,498.25 196.03,497.9 Z" fill="#4DBBD5" stroke="#3a3a3a" stroke-width="0.45"/>
<line x1="200.83" y1="497.9" x2="200.83" y2="505" stroke="#3a3a3a" stroke-width="0.4" opacity="0.8"/>
<rect x="199.43" y="500.5" width="2.8" height="2.2" fill="#fff" stroke="#444" stroke-width="0.45"/>
<line x1="199.43" y1="501.6" x2="202.23" y2="501.6" stroke="#333" stroke-width="0.8"/>
<text x="200.83" y="496.1" class="lt">b</text>
<path d="M211.34,497.9 L221.74,497.9 C221.75,498.42 221.65,499.98 221.84,501 C222.02,502.02 222.57,503.08 222.84,504 C223.1,504.92 223.37,505.83 223.44,506.5 C223.5,507.17 223.27,507.75 223.24,508 L209.84,508 C209.8,507.75 209.57,507.17 209.64,506.5 C209.7,505.83 209.97,504.92 210.24,504 C210.5,503.08 211.05,502.02 211.24,501 C211.42,499.98 211.32,498.42 211.34,497.9 Z" fill="#00A087" stroke="#3a3a3a" stroke-width="0.45"/>
<line x1="216.54" y1="497.9" x2="216.54" y2="508" stroke="#3a3a3a" stroke-width="0.4" opacity="0.8"/>
<rect x="215.14" y="501.7" width="2.8" height="4.7" fill="#fff" stroke="#444" stroke-width="0.45"/>
<line x1="215.14" y1="504.1" x2="217.94" y2="504.1" stroke="#333" stroke-width="0.8"/>
<text x="216.54" y="496.1" class="lt">b</text>
<path d="M225.35,508.2 L239.15,508.2 C239.05,508.38 239.17,508.9 238.55,509.3 C237.93,509.7 236.03,510.15 235.45,510.6 C234.87,511.05 235.02,511.6 235.05,512 C235.08,512.4 235.47,512.63 235.65,513 C235.83,513.37 236.07,514 236.15,514.2 L228.35,514.2 C228.43,514 228.67,513.37 228.85,513 C229.03,512.63 229.42,512.4 229.45,512 C229.48,511.6 229.63,511.05 229.05,510.6 C228.47,510.15 226.57,509.7 225.95,509.3 C225.33,508.9 225.45,508.38 225.35,508.2 Z" fill="#3C5488" stroke="#3a3a3a" stroke-width="0.45"/>
<line x1="232.25" y1="508.2" x2="232.25" y2="514.2" stroke="#3a3a3a" stroke-width="0.4" opacity="0.8"/>
<rect x="230.85" y="509" width="2.8" height="1.2" fill="#fff" stroke="#444" stroke-width="0.45"/>
<line x1="230.85" y1="509.6" x2="233.65" y2="509.6" stroke="#333" stroke-width="0.8"/>
<text x="232.25" y="506.6" class="lt">b</text>
<path d="M243.66,505.1 L252.26,505.1 C252.71,505.58 254.51,507.52 254.96,508 L240.96,508 C241.41,507.52 243.21,505.58 243.66,505.1 Z" fill="#F39B7F" stroke="#3a3a3a" stroke-width="0.45"/>
<line x1="247.96" y1="505.1" x2="247.96" y2="508" stroke="#3a3a3a" stroke-width="0.4" opacity="0.8"/>
<rect x="246.56" y="505.8" width="2.8" height="1" fill="#fff" stroke="#444" stroke-width="0.45"/>
<line x1="246.56" y1="506.3" x2="249.36" y2="506.3" stroke="#333" stroke-width="0.8"/>
<text x="247.96" y="503.5" class="lt">b</text>
<path d="M258.37,483.6 L268.97,483.6 C268.95,484.17 268.82,485.77 268.82,487 C268.82,488.23 268.85,489.67 268.97,491 C269.1,492.33 269.32,493.43 269.57,495 C269.83,496.57 270.36,498.9 270.52,500.4 C270.69,501.9 270.62,502.98 270.57,504 C270.53,505.02 270.32,506.08 270.27,506.5 L257.07,506.5 C257.02,506.08 256.82,505.02 256.77,504 C256.73,502.98 256.66,501.9 256.82,500.4 C256.99,498.9 257.52,496.57 257.77,495 C258.03,493.43 258.25,492.33 258.37,491 C258.5,489.67 258.52,488.23 258.52,487 C258.52,485.77 258.4,484.17 258.37,483.6 Z" fill="#8491B4" stroke="#3a3a3a" stroke-width="0.45"/>
<line x1="263.67" y1="483.6" x2="263.67" y2="506.5" stroke="#3a3a3a" stroke-width="0.4" opacity="0.8"/>
<rect x="262.27" y="490.7" width="2.8" height="11.6" fill="#fff" stroke="#444" stroke-width="0.45"/>
<line x1="262.27" y1="497.4" x2="265.07" y2="497.4" stroke="#333" stroke-width="0.8"/>
<text x="263.67" y="481.8" class="lt">b</text>
<path d="M273.44,505.6 L285.34,505.6 C284.75,505.97 281.71,507.03 281.84,507.8 C281.96,508.57 285.38,509.8 286.09,510.2 L272.69,510.2 C273.4,509.8 276.81,508.57 276.94,507.8 C277.06,507.03 274.02,505.97 273.44,505.6 Z" fill="#91D1C2" stroke="#3a3a3a" stroke-width="0.45"/>
<line x1="279.39" y1="505.6" x2="279.39" y2="510.2" stroke="#3a3a3a" stroke-width="0.4" opacity="0.8"/>
<rect x="277.99" y="508.2" width="2.8" height="1" fill="#fff" stroke="#444" stroke-width="0.45"/>
<line x1="277.99" y1="508.7" x2="280.79" y2="508.7" stroke="#333" stroke-width="0.8"/>
<text x="279.39" y="504.3" class="lt">b</text>
<rect x="176" y="390.5" width="112.5" height="129.5" fill="none" stroke="#c4c4c4" stroke-width="0.9"/>
<line x1="173.8" y1="400.5" x2="176" y2="400.5" stroke="#b0b0b0" stroke-width="0.6"/>
<text x="174" y="403.02" class="yt" style="font-size:8.7px">0.6</text>
<line x1="173.8" y1="442.6" x2="176" y2="442.6" stroke="#b0b0b0" stroke-width="0.6"/>
<text x="174" y="445.12" class="yt" style="font-size:8.7px">0.4</text>
<line x1="173.8" y1="484.7" x2="176" y2="484.7" stroke="#b0b0b0" stroke-width="0.6"/>
<text x="174" y="487.22" class="yt" style="font-size:8.7px">0.2</text>
<line x1="185.11" y1="520" x2="185.11" y2="522.2" stroke="#b0b0b0" stroke-width="0.6"/>
<text transform="translate(181.91,524.9) rotate(-64)" class="xt" style="font-size:7.18px" dy="0.7em">CK</text>
<line x1="200.83" y1="520" x2="200.83" y2="522.2" stroke="#b0b0b0" stroke-width="0.6"/>
<text transform="translate(196.73,522.2) rotate(-64)" class="xt" style="font-size:7.18px" dy="0.7em">2-14F2A</text>
<line x1="216.54" y1="520" x2="216.54" y2="522.2" stroke="#b0b0b0" stroke-width="0.6"/>
<text transform="translate(212.74,522.3) rotate(-64)" class="xt" style="font-size:7.18px" dy="0.7em">2-14F2B</text>
<line x1="232.25" y1="520" x2="232.25" y2="522.2" stroke="#b0b0b0" stroke-width="0.6"/>
<text transform="translate(228.85,522.4) rotate(-64)" class="xt" style="font-size:7.18px" dy="0.7em">2-14F2C</text>
<line x1="247.96" y1="520" x2="247.96" y2="522.2" stroke="#b0b0b0" stroke-width="0.6"/>
<text transform="translate(245.36,523.6) rotate(-64)" class="xt" style="font-size:7.18px" dy="0.7em">2-8F2A</text>
<line x1="263.67" y1="520" x2="263.67" y2="522.2" stroke="#b0b0b0" stroke-width="0.6"/>
<text transform="translate(261.77,524) rotate(-64)" class="xt" style="font-size:7.18px" dy="0.7em">2-8F2B</text>
<line x1="279.39" y1="520" x2="279.39" y2="522.2" stroke="#b0b0b0" stroke-width="0.6"/>
<text transform="translate(277.79,524.2) rotate(-64)" class="xt" style="font-size:7.18px" dy="0.7em">2-8F2C</text>
<text x="234" y="386.6" class="ti" style="font-size:8.5px" textLength="87.3" lengthAdjust="spacingAndGlyphs">Oxidative Stress Tolerant</text>
<text transform="translate(159.1,451.5) rotate(-90)" class="yl" style="font-size:8.8px" textLength="69.5" lengthAdjust="spacingAndGlyphs">Relative Abundance</text>
<line x1="316.3" y1="413.95" x2="422.4" y2="413.95" stroke="#e9e9e9" stroke-width="0.55"/>
<line x1="316.3" y1="445.3" x2="422.4" y2="445.3" stroke="#e9e9e9" stroke-width="0.55"/>
<line x1="316.3" y1="476.7" x2="422.4" y2="476.7" stroke="#e9e9e9" stroke-width="0.55"/>
<line x1="316.3" y1="508" x2="422.4" y2="508" stroke="#e9e9e9" stroke-width="0.55"/>
<line x1="316.3" y1="398.3" x2="422.4" y2="398.3" stroke="#e2e2e2" stroke-width="0.6"/>
<line x1="316.3" y1="429.65" x2="422.4" y2="429.65" stroke="#e2e2e2" stroke-width="0.6"/>
<line x1="316.3" y1="461" x2="422.4" y2="461" stroke="#e2e2e2" stroke-width="0.6"/>
<line x1="316.3" y1="492.35" x2="422.4" y2="492.35" stroke="#e2e2e2" stroke-width="0.6"/>
<line x1="324.89" y1="389.5" x2="324.89" y2="519.9" stroke="#e2e2e2" stroke-width="0.6"/>
<line x1="339.71" y1="389.5" x2="339.71" y2="519.9" stroke="#e2e2e2" stroke-width="0.6"/>
<line x1="354.53" y1="389.5" x2="354.53" y2="519.9" stroke="#e2e2e2" stroke-width="0.6"/>
<line x1="369.35" y1="389.5" x2="369.35" y2="519.9" stroke="#e2e2e2" stroke-width="0.6"/>
<line x1="384.17" y1="389.5" x2="384.17" y2="519.9" stroke="#e2e2e2" stroke-width="0.6"/>
<line x1="398.99" y1="389.5" x2="398.99" y2="519.9" stroke="#e2e2e2" stroke-width="0.6"/>
<line x1="413.81" y1="389.5" x2="413.81" y2="519.9" stroke="#e2e2e2" stroke-width="0.6"/>
<path d="M318.29,395.6 L331.49,395.6 C331.44,396 331.49,396.72 331.19,398 C330.89,399.28 330.18,401.8 329.69,403.3 C329.21,404.8 328.74,405.73 328.29,407 C327.84,408.27 327.29,409.73 326.99,410.9 C326.69,412.07 326.44,412.65 326.49,414 C326.54,415.35 327.01,417.03 327.29,419 C327.58,420.97 328.04,424.67 328.19,425.8 L321.59,425.8 C321.74,424.67 322.21,420.97 322.49,419 C322.78,417.03 323.24,415.35 323.29,414 C323.34,412.65 323.09,412.07 322.79,410.9 C322.49,409.73 321.94,408.27 321.49,407 C321.04,405.73 320.58,404.8 320.09,403.3 C319.61,401.8 318.89,399.28 318.59,398 C318.29,396.72 318.34,396 318.29,395.6 Z" fill="#E64B35" stroke="#3a3a3a" stroke-width="0.45"/>
<line x1="324.89" y1="395.6" x2="324.89" y2="425.8" stroke="#3a3a3a" stroke-width="0.4" opacity="0.8"/>
<rect x="323.49" y="397.8" width="2.8" height="13.9" fill="#fff" stroke="#444" stroke-width="0.45"/>
<line x1="323.49" y1="399.3" x2="326.29" y2="399.3" stroke="#333" stroke-width="0.8"/>
<text x="324.89" y="394.6" class="lt">a</text>
<path d="M335.31,501.8 L344.11,501.8 C344.5,502.47 346.07,505.13 346.46,505.8 L332.96,505.8 C333.35,505.13 334.92,502.47 335.31,501.8 Z" fill="#4DBBD5" stroke="#3a3a3a" stroke-width="0.45"/>
<line x1="339.71" y1="501.8" x2="339.71" y2="505.8" stroke="#3a3a3a" stroke-width="0.4" opacity="0.8"/>
<rect x="338.31" y="503.2" width="2.8" height="1.2" fill="#fff" stroke="#444" stroke-width="0.45"/>
<line x1="338.31" y1="503.8" x2="341.11" y2="503.8" stroke="#333" stroke-width="0.8"/>
<text x="339.71" y="498.1" class="lt">b</text>
<path d="M349.83,499.4 L359.23,499.4 C359.13,499.93 358.33,501.38 358.63,502.6 C358.93,503.82 360.73,505.72 361.03,506.7 C361.33,507.68 360.53,508.2 360.43,508.5 L348.63,508.5 C348.53,508.2 347.73,507.68 348.03,506.7 C348.33,505.72 350.13,503.82 350.43,502.6 C350.73,501.38 349.93,499.93 349.83,499.4 Z" fill="#00A087" stroke="#3a3a3a" stroke-width="0.45"/>
<line x1="354.53" y1="499.4" x2="354.53" y2="508.5" stroke="#3a3a3a" stroke-width="0.4" opacity="0.8"/>
<rect x="353.13" y="502.9" width="2.8" height="3.8" fill="#fff" stroke="#444" stroke-width="0.45"/>
<line x1="353.13" y1="504.8" x2="355.93" y2="504.8" stroke="#333" stroke-width="0.8"/>
<text x="354.53" y="497" class="lt">b</text>
<path d="M362.9,508.8 L375.8,508.8 C375.1,509.23 372.18,510.48 371.6,511.4 C371.02,512.32 372.18,513.82 372.3,514.3 L366.4,514.3 C366.52,513.82 367.68,512.32 367.1,511.4 C366.52,510.48 363.6,509.23 362.9,508.8 Z" fill="#3C5488" stroke="#3a3a3a" stroke-width="0.45"/>
<line x1="369.35" y1="508.8" x2="369.35" y2="514.3" stroke="#3a3a3a" stroke-width="0.4" opacity="0.8"/>
<rect x="367.95" y="509.7" width="2.8" height="1" fill="#fff" stroke="#444" stroke-width="0.45"/>
<line x1="367.95" y1="510.2" x2="370.75" y2="510.2" stroke="#333" stroke-width="0.8"/>
<text x="369.35" y="506.9" class="lt">b</text>
<path d="M377.42,507.2 L390.92,507.2 C390.92,507.35 390.92,507.95 390.92,508.1 L377.42,508.1 C377.42,507.95 377.42,507.35 377.42,507.2 Z" fill="#F39B7F" stroke="#333" stroke-width="0.6"/>
<line x1="381.67" y1="507.65" x2="386.67" y2="507.65" stroke="#222" stroke-width="0.8"/>
<line x1="384.17" y1="507.2" x2="384.17" y2="508.1" stroke="#3a3a3a" stroke-width="0.4" opacity="0.8"/>
<text x="384.17" y="504.3" class="lt">b</text>
<path d="M394.44,490 L403.54,490 C403.56,490.67 403.58,492.83 403.69,494 C403.8,495.17 403.95,496 404.19,497 C404.43,498 404.9,498.83 405.14,500 C405.38,501.17 405.6,503 405.64,504 C405.68,505 405.51,505.45 405.39,506 C405.26,506.55 404.97,507.08 404.89,507.3 L393.09,507.3 C393,507.08 392.71,506.55 392.59,506 C392.46,505.45 392.3,505 392.34,504 C392.38,503 392.6,501.17 392.84,500 C393.08,498.83 393.55,498 393.79,497 C394.03,496 394.18,495.17 394.29,494 C394.4,492.83 394.41,490.67 394.44,490 Z" fill="#8491B4" stroke="#3a3a3a" stroke-width="0.45"/>
<line x1="398.99" y1="490" x2="398.99" y2="507.3" stroke="#3a3a3a" stroke-width="0.4" opacity="0.8"/>
<rect x="397.59" y="495.8" width="2.8" height="7.7" fill="#fff" stroke="#444" stroke-width="0.45"/>
<line x1="397.59" y1="500.2" x2="400.39" y2="500.2" stroke="#333" stroke-width="0.8"/>
<text x="398.99" y="487.3" class="lt">b</text>
<path d="M409.51,507 L418.11,507 C418.32,507.27 419.02,508.12 419.41,508.6 C419.79,509.08 420.24,509.68 420.41,509.9 L407.21,509.9 C407.37,509.68 407.82,509.08 408.21,508.6 C408.59,508.12 409.29,507.27 409.51,507 Z" fill="#91D1C2" stroke="#3a3a3a" stroke-width="0.45"/>
<line x1="413.81" y1="507" x2="413.81" y2="509.9" stroke="#3a3a3a" stroke-width="0.4" opacity="0.8"/>
<rect x="412.41" y="508" width="2.8" height="1" fill="#fff" stroke="#444" stroke-width="0.45"/>
<line x1="412.41" y1="508.5" x2="415.21" y2="508.5" stroke="#333" stroke-width="0.8"/>
<text x="413.81" y="503.7" class="lt">b</text>
<rect x="316.3" y="389.5" width="106.1" height="130.4" fill="none" stroke="#c4c4c4" stroke-width="0.9"/>
<line x1="314.1" y1="398.3" x2="316.3" y2="398.3" stroke="#b0b0b0" stroke-width="0.6"/>
<text x="314.3" y="400.94" class="yt" style="font-size:9.1px">0.8</text>
<line x1="314.1" y1="429.65" x2="316.3" y2="429.65" stroke="#b0b0b0" stroke-width="0.6"/>
<text x="314.3" y="432.29" class="yt" style="font-size:9.1px">0.6</text>
<line x1="314.1" y1="461" x2="316.3" y2="461" stroke="#b0b0b0" stroke-width="0.6"/>
<text x="314.3" y="463.64" class="yt" style="font-size:9.1px">0.4</text>
<line x1="314.1" y1="492.35" x2="316.3" y2="492.35" stroke="#b0b0b0" stroke-width="0.6"/>
<text x="314.3" y="494.99" class="yt" style="font-size:9.1px">0.2</text>
<line x1="324.89" y1="519.9" x2="324.89" y2="522.1" stroke="#b0b0b0" stroke-width="0.6"/>
<text transform="translate(322.29,524.6) rotate(-64)" class="xt" style="font-size:7.28px" dy="0.7em">CK</text>
<line x1="339.71" y1="519.9" x2="339.71" y2="522.1" stroke="#b0b0b0" stroke-width="0.6"/>
<text transform="translate(336.21,521.9) rotate(-64)" class="xt" style="font-size:7.28px" dy="0.7em">2-14F2A</text>
<line x1="354.53" y1="519.9" x2="354.53" y2="522.1" stroke="#b0b0b0" stroke-width="0.6"/>
<text transform="translate(351.33,522) rotate(-64)" class="xt" style="font-size:7.28px" dy="0.7em">2-14F2B</text>
<line x1="369.35" y1="519.9" x2="369.35" y2="522.1" stroke="#b0b0b0" stroke-width="0.6"/>
<text transform="translate(366.55,522.1) rotate(-64)" class="xt" style="font-size:7.28px" dy="0.7em">2-14F2C</text>
<line x1="384.17" y1="519.9" x2="384.17" y2="522.1" stroke="#b0b0b0" stroke-width="0.6"/>
<text transform="translate(382.17,523.3) rotate(-64)" class="xt" style="font-size:7.28px" dy="0.7em">2-8F2A</text>
<line x1="398.99" y1="519.9" x2="398.99" y2="522.1" stroke="#b0b0b0" stroke-width="0.6"/>
<text transform="translate(397.69,523.7) rotate(-64)" class="xt" style="font-size:7.28px" dy="0.7em">2-8F2B</text>
<line x1="413.81" y1="519.9" x2="413.81" y2="522.1" stroke="#b0b0b0" stroke-width="0.6"/>
<text transform="translate(412.81,523.9) rotate(-64)" class="xt" style="font-size:7.28px" dy="0.7em">2-8F2C</text>
<text x="372.8" y="385.9" class="ti" style="font-size:8.5px" textLength="37.6" lengthAdjust="spacingAndGlyphs">Pathogenic</text>
<text transform="translate(300.64,453) rotate(-90)" class="yl" style="font-size:9.2px" textLength="72.5" lengthAdjust="spacingAndGlyphs">Relative Abundance</text>
</svg>
</body></html>
